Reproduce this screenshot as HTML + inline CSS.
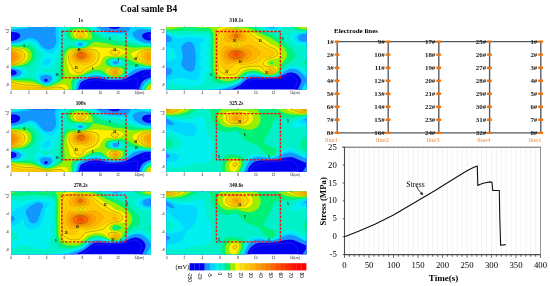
<!DOCTYPE html>
<html lang="en"><head><meta charset="utf-8"><title>Coal samle B4</title>
<style>
html,body{margin:0;padding:0;background:#fff;}
body{width:550px;height:286px;overflow:hidden;}
svg{display:block;}
text{font-family:"Liberation Serif","Times New Roman",serif;fill:#000;}
.b{font-weight:bold;}
.s{font-family:"Liberation Sans",Arial,sans-serif;}
.k{stroke:#000;stroke-opacity:.28;stroke-width:.3;}
.k2{stroke:#000;stroke-opacity:.7;stroke-width:.35;}
.w{stroke:#fff;stroke-opacity:.35;stroke-width:.3;}
.red{fill:none;stroke:#ee0c0c;stroke-width:1.4;stroke-dasharray:2.5 1.35;}
.tk{stroke:#444;stroke-width:.35;fill:none;}
.ax{font-family:"Liberation Sans",Arial,sans-serif;font-size:3.2px;fill:#111;}
.cl{font-family:"Liberation Sans",Arial,sans-serif;font-size:2.6px;fill:#000;font-weight:bold;}
.el{font-size:6.9px;fill:#1a1a1a;font-weight:bold;text-anchor:end;}
.ln{font-size:6.5px;fill:#f08a3c;text-anchor:middle;}
.ct{font-size:8.7px;}
</style></head><body>
<svg width="550" height="286" viewBox="0 0 550 286">
<rect width="550" height="286" fill="#fff"/>
<defs><clipPath id="mc"><rect x="0" y="0" width="139.8" height="62.5"/></clipPath></defs>

<text x="148.7" y="11.7" class="b" font-size="9.3" text-anchor="middle">Coal samle B4</text>
<g transform="translate(11.0 26.9)">
<text x="69.7" y="-4.7" class="b" font-size="5.3" text-anchor="middle">1s</text>
<g clip-path="url(#mc)">
<rect x="-1" y="-1" width="141.8" height="64.5" fill="#0000f0"/>
<path fill="#0000f0" class="w" d="M-1 -1l141.8 0l0 45.8l-1-0.7l-1-0.2l-2 0.2l-1.9 0.5l-1.7 1l-1.2 1l-0.7 1l-0.2 1l0.7 0.5l1 0.3l3-0.1l3-0.6l1-0.5l1-0.9l0 16.2l-15.7 0l1-2l0.7-7.9l-0.2-1l-0.8-0.8l-1-0.2l-2 0.1l-3 0.5l-5 1.6l-4 0.5l-5.9-0.2l-5 0.3l-3 0l-3-0.4l-4-0.8l-3-0.2l-4 0.1l-3.9 0.5l-4.1 1.5l-2 1.1l-1 0.9l-1 1.3l-1 1.8l-1 2.3l-0.2 1l-69.7 0l0-16.5l1 0.3l1-0.1l1.2-0.6l0.5-1l-0.5-1l-1.2-0.5l-1-0.2l-1 0.3l0-33l1 0.2l1 0l1.4-0.5l0.9-1l0.1-1l-0.8-1l-0.6-0.3l-1-0.3l-1 0l-1 0.2l0-7.5zM138.8 7.9l-1 0.4l-0.7 0.6l0.2 1l0.5 0.4l1 0.3l1-0.2l0.6-0.5l0.3-1l-0.9-0.8l-0.8-0.2z"/>
<path fill="#1496ff" class="w" d="M-1 -1l95.3 0l1.7 1l2.9 1.3l2.3 0.7l2.7 0.3l1.9-0.2l2-0.6l2-1.3l1.1-1.2l29.9 0l0 6.4l-2-0.3l-2 0.1l-3 0.7l-1.7 1l-0.8 1l-0.3 1l0.2 1l0.5 1l0.9 1l1.5 1l1.7 0.6l2 0.4l3-0.3l0 29.4l-2-0.5l-2 0l-3 0.4l-3.3 0.8l-4.9 1.9l-10.8 5.9l-2 0.7l-3 0.6l-10.9 0.2l-3.4-0.4l-6.6-1.6l-3-0.2l-4 0.1l-4 0.7l-5.2 2l-1.9 1l-0.9 0.8l-1 1.6l-0.6 1.5l-0.9 3l-0.4 2l-68 0l0-14.8l3 0l2-0.7l0.7-0.4l0.9-1l0.2-1l-0.4-1l-1.4-1.1l-2-0.7l-1-0.1l-2 0.1l0-28.8l3 0l2-0.4l1.8-0.7l1.6-1l1-1l0.7-1l0.2-1l-0.1-1l-0.7-1l-1.6-1l-1.9-0.6l-2-0.3l-4 0.1l0-5.1zM34 51.9l-0.8 0.7l-0.1 1l0.7 1l1.1 0.4l1.2-0.4l0.8-1l-0.1-1l-0.9-0.8l-1-0.2zM139.2 50.6l1.6-0.7l0 13.6l-13.1 0l2.1-6l1-1.8l0.9-1.1l1.1-1l1.6-1l4.4-1.8z"/>
<path fill="#00d8ff" d="M-1 -1l23.3 0l-3.3 1.6l-3 0.8l-17 1.6l0-3zM44.8 0l0.1-1l39.7 0l2.6 2l2.7 1.6l3 1.4l2.7 1l4.3 0.7l8.9 0.3l5-0.4l3-0.8l1.2-0.8l0.5-1l1.3-4l21 0l0 4l-8-0.7l-3 0l-2 0.2l-3 1l-2.4 1.5l-0.7 0.9l-0.1 1l0.7 2l1.7 2l2.5 2l1.8 1l2.5 1.1l4 1l3 0.3l3-0.2l0 25.6l-3-0.4l-5 0l-4.3 0.4l-3.7 0.8l-2 0.8l-2 1.2l-5 4.1l-2 1.3l-3 1.3l-3 0.6l-4.9 0.2l-4-0.3l-3-0.6l-6-1.9l-4-0.6l-4 0.2l-4 0.8l-7.8 3l-1.2 0.7l-1 0.9l-0.9 1.4l-0.7 1.9l-0.9 6l-66.4 0l0-13.4l4-0.1l2.5-0.4l1.5-0.5l1-0.5l1.3-1l0.6-1l0.2-1l-0.4-1l-1-0.9l-1.8-1l-3.9-1l-4-0.1l0-25.4l3 0l4-0.6l4-1.2l7-2.7l2-0.4l2 0l1 0.2l2 0.7l2 1.4l1.2 1.3l3.8 4.7l2 1.6l1.9 0.9l2 0.4l2 0l1-0.2l2-1.1l1.3-1.4l1.3-1.9l0.6-2l0.3-3l-0.9-7l0-2.9l0.1-2zM67.9 16.3l-0.9 0.6l0 1l1.2 0.9l1.7 0.2l1-0.4l0.7-0.7l-0.1-1l-0.6-0.5l-1-0.4l-1 0zM102.9 34.4l-0.5 0.3l-0.5 1l0.4 1l1.6 0.8l1 0.1l0.9-0.2l1.3-0.7l0.4-1l-0.5-1l-1.2-0.5l-0.9-0.2l-1 0zM32 48.5l-1 0.3l-1.2 0.8l-0.5 1l-0.1 1l0.3 1l1.3 2l1.3 1l1.9 0.7l1.9 0.1l2-0.6l1.7-1.2l0.7-1l0.5-1l0.1-1l-0.1-1l-0.9-1.2l-1-0.6l-1-0.3l-2-0.3l-2.9 0.1zM138.9 52.6l1.9-0.8l0 11.7l-10.9 0l1.6-4l1.8-2.9l2.1-2l1.5-1l1.9-1z"/>
<path fill="#00f0f0" d="M-1 -1l16 0l-3.1 1l-4.2 1l-5.1 1l-2.6 0.3l-1 0.1l0-2.4zM49.9 -1l31.9 0l6.1 4.3l3 1.6l3 1.2l4 0.8l7.9 0.3l8 1.2l3 1l8.3 4.5l4.7 1.8l3 0.8l3 0.4l3 0.2l2-0.3l0 24.5l-4-0.5l-5-0.1l-5 0.4l-3 0.6l-3 1.3l-2 1.7l-2.9 2.9l-2.8 2l-2.3 1.1l-3 0.7l-4.9 0.2l-4-0.3l-3-0.7l-6-2.1l-3-0.6l-4 0l-2 0.3l-3 0.7l-8 3.1l-2.4 1.6l-1.3 2l-0.7 1.9l-0.6 6l-65.9 0l0-13l5 0l4-0.9l2.1-1l1.3-1l0.7-1l0.2-1l-0.4-1l-1-0.9l-1.8-1l-1.1-0.4l-4-0.9l-3-0.2l-2 0.1l0-24.4l3 0l4-0.5l11-2.7l2-0.2l2 0.3l2 0.7l2 1.3l5 5.7l2 1.6l2 1.2l4.9 2.4l1 0.1l1-0.2l2-1.4l2-2.4l2-3l1.4-2.9l0.4-3l-0.6-6l-0.1-2.9l0.5-3l0.8-2zM66.9 15.8l-1.3 1.1l0.1 1l1.2 0.9l2 0.6l1 0l1-0.2l0.7-0.4l0.9-0.9l0-1l-0.6-0.8l-1-0.5l-1-0.2l-2 0.1zM102.9 33.6l-1.7 1.1l-0.3 1l0.4 1l1.6 1.1l1 0.2l1.9 0l1.1-0.3l1.5-1l0.4-1l-0.4-1l-1.6-1l-1-0.3l-1.9 0zM29 47.5l-1.2 1.1l-0.4 1l0.1 1l0.7 2l1.7 2l2.1 1.4l2 0.8l1.9 0.1l1.6-0.3l2-1l1.2-1l1.4-2l0.3-1l0-1l-0.2-1l-0.5-1l-1.2-1l-1.6-0.5l-6.9-0.1l-2 0.2zM35.9 31.6l-1.9 1.1l-1.2 1l-0.6 1l-0.2 1l0.1 1l0.7 1l1.2 0.5l0.9 0.2l2-0.2l1.1-0.5l1.1-1l0.6-1l0.4-2l-0.2-1.1l-1-1.3l-1-0.2l-1 0.2zM125.5 -1l15.3 0l0 3.2l-3-0.3l-4.8-0.9l-5-1l-2.2-0.8zM140.4 52.6l0.4-0.2l0 11.1l-10.2 0l1.6-4l2-2.9l2.3-2l1.6-1l1.7-0.8z"/>
<path fill="#00f0c8" d="M-1 -1l10.5 0l-6.1 2l-3.4 0.6l-1 0.1l0-1.7zM53.1 0l1.1-1l24.6 0l3.1 1.7l6 4.4l2 1.2l3 1.2l3 0.8l2 0.2l2 0.1l4-0.2l1.9 0.3l8 2.3l9.7 3.9l5.3 1.6l3 0.7l4 0.4l3 0.2l2-0.3l0 23.4l-5-0.6l-6-0.2l-4 0.2l-3 0.5l-2 0.7l-1 0.6l-1 0.9l-3 3.6l-3 2.5l-3 1.4l-3 0.6l-3.9 0.2l-4-0.4l-3-0.9l-6-2.3l-3-0.6l-4 0l-4 0.9l-9.5 3.6l-1.8 1l-1.1 1l-1.2 2l-0.6 1.9l-0.2 2l0 3l-0.2 1l-65.3 0l0-12.5l6-0.1l4-0.7l3-1.2l2.5-1.4l1.1-1l0.5-1l-0.3-1l-1.2-0.9l-2.2-1l-2.4-0.8l-3-0.6l-3-0.4l-5 0l0-23.4l2 0.1l4-0.4l10-1.7l3-0.2l2 0.1l1.4 0.5l1.6 0.8l1.3 1.2l6.5 7.9l0.7 1l0.4 1l-0.2 1l-2.6 4.9l-1 3l-0.1 3l0.7 2l-0.7 1l-2 0.8l-1.5 1.1l-0.7 1l-0.1 1l0.3 1l0.9 2l1.2 2l1.7 2l2.3 2l1.9 1l2 0.6l1.9 0.1l2-0.4l2.8-1.3l1.2-1l1.6-2l0.6-2l0.1-1l-0.3-1.5l-0.7-1.5l-1.3-1.3l-1-0.6l-1-0.2l-2 0.4l-2 0.8l-1 0.2l-1.5-0.3l-2-1l-2.3-1.9l0.9-0.5l1.9-0.5l3-0.2l4 0.2l1-0.3l1-0.7l1-1l1-1.5l1-2.1l0.9-2.4l1.2-5.9l0.7-2l1.4-3l3.1-4.9l0.7-2l0.1-2l-1-5l-0.2-3l0.6-2.9l0.5-1.2l1-1.5zM67.9 14.8l-2 0.5l-1.3 0.6l-0.7 1l0.3 1l1.3 0.9l1.4 0.6l1.8 0.4l1.2 0l1-0.2l1.7-0.8l0.8-0.9l0.2-1l-0.6-1l-1.1-0.6l-1-0.4l-2-0.1zM101.9 33.3l-0.9 0.4l-0.9 1l-0.2 1l0.3 1l1.2 1l1.5 0.6l2 0.2l2.9-0.5l0.9-0.3l1.2-1l0.4-1l-0.4-1l-1.1-1l-2-0.7l-1.9-0.2l-2 0.2zM131.9 -1l8.9 0l0 2.3l-3.3-0.3l-4.7-1.6zM139.4 53.6l1.4-0.6l0 10.5l-9.6 0l1.6-3.7l1.5-2.3l2-1.9l2.5-1.8z"/>
<path fill="#00f078" d="M-1 -1l4 0l-3 1.2l-1-0.1l0-0.1zM61.2 0l2.7-0.5l2-0.1l4 0.5l4 0.2l3 0.8l2 0.9l1.6 1.2l5.4 5l2 1.5l3 1.4l3 0.8l7 1.3l4.9 1.2l7 1l9 2.3l4 0.7l8 0.7l5 0.1l2-0.2l0 21.3l-15-1.7l-9-0.3l-1-0.5l-1-1.9l-1.8-2l-2.2-1.1l-3-0.8l-2.9-0.1l-3 0.3l-2.4 0.7l-1.3 1l-0.6 1l-0.1 1l0.3 1l0.9 1l2 1l2.2 0.5l2 0.1l9.9-0.6l0.9 1l0.1 1l-0.2 2l-0.2 1l-0.9 1.9l-1.6 2l-1.1 0.9l-3 1.4l-2 0.5l-1.9 0.2l-3 0l-2-0.4l-3-0.9l-7-3.3l-3-0.7l-3 0l-4 0.8l-12 4.7l-1.5 0.8l-1.4 1l-0.9 1l-0.6 1l-0.5 2l-0.2 1.9l0.3 4l-0.3 1l-63.8 0l0-11.7l8 0.3l9-1.1l3 0.1l3 0.9l9 5.2l2 0.7l1.9 0.3l3-0.2l2-0.6l3.4-1.8l2.5-2l1.6-2l0.9-2l0.3-1l0.1-1l-0.3-5.9l0.3-3l1.7-7l0.1-2.9l0.3-2l0.8-2l1.3-2.1l1-1.2l2-1.5l1-0.5l2-0.5l2 0.1l7 1.4l2 0l2-0.3l1-0.4l1.8-1l1-0.9l0.4-1l-0.2-1l-1-1l-2-0.8l-4-0.4l-6 0.1l-2-0.1l-2-0.7l-1.3-1.1l-0.8-1l-1-2l-0.3-2l0.3-1.9l1-2l0.9-1l1.3-1l1.9-0.9zM138.8 -1l2 0l-1 0.2l-1-0.2zM-1 18.8l0-0.2l3 0l11-0.5l4 0.1l2 0.4l1 0.4l1 0.8l2 2.3l1.4 2.7l0.7 3l-0.5 3l-0.8 1.9l-0.8 1.5l-2.1 2.5l-1.2 1l-1.7 1.1l-2 0.7l-3 0.5l-14 0.2l0-20.4zM140 54.6l0.8-0.3l0 9.2l-8.3 0l1.3-2.9l1.4-2.1l1.9-1.9l2.7-1.9z"/>
<path fill="#96f000" d="M64.1 2l2.8-0.4l5 0.2l3 0.6l2 1l2 1.6l0.8 0.9l1.1 2l0.4 2l0 1l-0.5 1l-0.8 0.6l-1 0.3l-2 0l-9-0.2l-4-0.6l-2.3-1.1l-1.1-1l-0.6-1l-0.4-1l0-2l0.4-0.9l1-1.3l1-0.8l2-0.9zM81.6 15.9l1.3-0.8l1-0.2l3 0.2l10 1.6l7 1.8l6.9 0.1l8 1.7l3 0.3l4 0.1l15-0.7l0 19.3l-4-0.5l-4-0.8l-8-2l-3.3-1.3l-5.7-3.1l-2.8-0.8l-4.2-0.3l-8.9 0.4l-2 0.5l-1 0.5l-1.2 0.8l-0.8 1l-0.4 1l-0.1 1l0.1 1l0.5 1l1.2 1l2.7 0.8l3 0.4l5.9 0.4l2.5 0.4l1.5 0.7l1.1 1.3l0.2 1l-0.1 0.9l-1 2l-0.9 1l-1.3 1l-2 0.8l-2 0.5l-1.9 0.1l-2-0.2l-2-0.4l-2.2-0.8l-1.7-1l-4.1-3.1l-2-1.1l-2-0.4l-3 0.1l-3 0.6l-3 1l-7 3.3l-7.7 2.6l-2.3 1.3l-0.7 0.7l-0.7 1l-0.4 2l0.1 1.9l0.7 4l-0.1 2l-61.8 0l0-10.8l2 0l7 0.8l8 0.1l3 0.3l4 1l9 3.6l2.9 0.6l3-0.1l2-0.5l5.1-1.9l3.8-2l2.8-2l0.8-1l0.9-2l0.1-2l-0.6-5.9l-0.1-3l0.5-8.9l0.6-3l1-2l0.8-1l1.1-1l1.2-0.7l1-0.5l2-0.5l2-0.1l7 0.2l2-0.2l2-0.5l1.8-0.7l2-1l1.5-0.9l1.7-1.5zM-1 19.8l0-0.2l11 0.4l3 0.3l3 0.8l2 1.2l1.4 1.5l0.9 2l0.4 2l-0.1 2l-0.3 1l-0.9 1.9l-1.6 2l-1.1 1l-1.7 1.2l-3 1.2l-2.8 0.6l-4.2 0.5l-6 0.3l0-18.7zM139.2 56.6l1.6-0.9l0 7.8l-7 0l0.9-2l1.1-1.7l1.1-1.3l1.9-1.6z"/>
<path fill="#fff000" class="k" d="M65.2 4l2.7-0.7l3 0l2.6 0.7l1.8 1l1 0.9l0.6 1l0.2 1l-0.1 1l-0.6 1l-1.5 1l-3 0.8l-3 0l-3-0.7l-1.9-1.1l-0.9-1l-0.4-1l-0.1-1l0.3-1l0.8-0.9l1.2-0.9zM-1 20.8l0-0.1l3 0.1l5 0.4l3.4 0.6l2.6 0.9l1.7 1.1l1.3 1.4l0.8 1.6l0.3 2l-0.4 2l-0.9 1.9l-1.8 2l-2 1.4l-2 0.9l-3 0.8l-4 0.7l-4 0.3l0-17zM77.1 20.8l3.8-0.7l3-0.2l3 0.1l5 0.6l8-0.1l6.9 0.4l3 0.6l3 1.3l1.4 1l0.9 1l0.2 1l-1 1l-2.1 1l-2.9 1l-2.5 0.5l-2.9 0.3l-7-0.5l-2 0.4l-0.7 0.3l-1.3 0.9l-0.9 1l-2.8 6l-1.3 1.2l-1.4 0.8l-8.6 3.3l-7 4l-3 0.8l-3 0.3l-3-0.1l-2-0.7l-0.8-0.7l-0.7-1l-0.9-1.9l-0.6-2l-1.2-6l-0.3-4.9l0.5-3l0.9-2l0.8-1l1.3-1.1l2-1l3-0.6l7-0.3l6-0.9zM133.1 21.8l7.7-0.6l0 17.3l-3-0.3l-3-0.7l-4-1.3l-3.4-1.5l-1.7-1l-2.6-2l-1.8-1.9l-1.4-2l-0.3-1l0.6-1l1.8-1l2.6-1l3.3-1l4.9-0.9zM96.2 41.7l2.7-0.7l3-0.2l3.9 0.2l3.2 0.7l1.5 1l0.6 1l0.1 0.9l-0.2 1l-0.6 1l-0.9 1l-1.7 1l-2.9 0.7l-3-0.2l-2-0.6l-1.8-0.9l-1.2-1l-0.9-1l-0.6-1l-0.3-0.9l0.1-1l0.7-0.8zM-1 54.6l0-0.9l1-0.1l9 1.7l12 1.1l6 1.3l5 1.8l3.9 0.5l3-0.1l9-2.2l3-0.5l2-0.1l2 0.6l1.2 0.8l1.3 2l0.5 1.8l0.1 1.2l-59 0l0-7.9zM140.2 57.5l0.6-0.3l0 6.3l-5.7 0l0.7-1.5l1-1.5l1-1.1l2-1.6z"/>
<path fill="#ffdc00" class="k2" d="M69.4 5l1.5 0.1l2 0.8l0.9 1l0.3 1l-0.3 1l-1 1l-1.9 0.7l-1 0.1l-2-0.3l-1.1-0.5l-1-1l-0.4-1l0.1-1l0.8-1l1.6-0.7l1-0.2zM-1 21.8l0-0.1l2 0l4 0.5l2.9 0.6l2.1 0.8l1.8 1.2l1 1l0.7 1l0.5 2l-0.3 2l-1 1.9l-0.9 1l-1.8 1.5l-2 1l-3 1.1l-3 0.6l-3 0.3l0-15.4zM65.4 22.8l11.5-0.7l3 0.1l2 0.3l3 1l1.9 1.3l0.9 1l0.4 1l0.1 1l-0.1 2l-0.8 2.9l-1.1 2l-1.3 1.7l-1.7 1.3l-1.3 0.7l-6.9 3.3l-4.5 3.9l-1.6 0.5l-2-0.2l-1.2-0.3l-1.9-1l-1-0.9l-0.9-1.5l-3-5.9l-1.2-3.6l-0.2-1.9l0.2-2l0.8-2l0.7-1l1-1l1.6-1l3.1-0.9zM135.6 22.8l5.2-0.5l0 15.4l-2-0.2l-2-0.4l-3.6-1.4l-2-1l-2.8-2l-0.9-1l-1.1-1.9l-0.2-1l0.2-1l0.5-1l1-1l1.5-1l1.4-0.6l4-1.2zM100 23.8l1.9-0.6l2-0.2l1.9 0.2l1 0.3l0.7 0.3l1 1l0.1 1l-0.5 1l-1.3 1l-1.9 0.6l-1 0l-2-0.4l-2.2-1.2l-0.7-1l0.1-1l0.8-0.8zM102.5 41.7l2.4 0l1.9 0.3l1.5 0.7l1 1l0.3 0.9l-0.1 1l-0.5 1l-1.2 1l-1 0.5l-1.9 0.5l-2-0.1l-2-0.6l-2.1-1.3l-0.7-1l-0.3-1l0.1-0.9l1-1l1-0.5l2-0.5zM-1 55.6l0-0.6l1-0.2l6 1.8l3 0.8l4 0.5l8 0.4l4 0.4l3 0.5l4 1.3l2.9 0.4l4 0.1l6-0.9l4 0.2l2 0.4l1.7 0.8l1 1l0.6 1l-55.2 0l0-6.9zM139.7 59.5l1.1-0.7l0 4.7l-4.4 0l1.2-2l1.2-1.3z"/>
<path fill="#ffc800" class="k" d="M68.2 7.9l0.7-0.7l1-0.1l1 0.5l0.3 0.3l-0.2 1l-1.1 0.6l-1-0.2l-0.6-0.4zM-1 22.8l0-0.1l2 0.1l3 0.4l2.2 0.6l2.1 1l1.3 1l0.8 1l0.6 1l0.2 2l-0.6 1.9l-0.6 1l-2.2 2l-1.8 1l-2.5 1l-2.5 0.6l-2 0.1l0-13.6zM64.8 23.8l2.1-0.5l3-0.2l6 0.1l2 0.3l2 0.6l1.5 0.7l1.4 1l0.8 1l0.7 2l0.1 1l-0.4 1.9l-1.1 2l-1 1.2l-2 1.4l-2 0.9l-2 0.5l-2 0.2l-2-0.2l-2-0.7l-4 0.4l-2-0.6l-2-1.3l-1-1.2l-1-1.9l-0.4-1.6l0.1-2l0.8-2l0.8-1l1.3-1l1.4-0.7zM137.3 23.8l3.5-0.3l0 13.3l-2-0.1l-2.6-1l-1.9-1l-2.7-2l-1.4-1.9l-0.3-1l0-1l0.3-1l0.7-1l1.2-1l1.7-0.9l3-1zM102.2 42.7l2.7-0.2l0.9 0.2l1.8 1l0.6 0.9l-0.1 1l-0.6 1l-1.7 1l-0.9 0.2l-2-0.1l-1-0.3l-1.3-0.8l-0.7-1l-0.2-1l0.5-0.9l1.7-1zM-1 57.5l2 0.1l5 1.6l4 0.8l4 0.3l12 0l7 1.4l5.9 0.6l6 0.1l2 0.4l1.6 0.7l-49.5 0l0-5zM140.8 60.5l0 3l-3 0l0.6-1l1.4-1.3z"/>
<path fill="#ffb400" class="k" d="M-1 23.8l2 0l2 0.4l1.8 0.6l1.2 0.6l1.7 1.4l0.6 1l0.4 1l0.1 1l-0.6 1.9l-0.7 1l-1 1l-1.4 1l-1.9 1l-2.2 0.8l-1 0.2l-1-0.1l0-11.8zM68.3 23.8l2.6-0.1l2 0.1l4 0.9l2.2 1.1l1.1 1l0.7 1l0.3 1l0 2l-1.1 1.9l-1 1l-1.2 0.8l-1 0.4l-2 0.5l-2 0l-7-0.6l-1-0.3l-1.4-0.8l-1.1-1l-0.5-0.8l-0.4-1.1l-0.2-1l0.4-2l0.5-1l1-1l1.5-1l3.2-0.9zM139.5 24.8l1.3 0l0 10.7l-1 0.1l-1-0.1l-1.6-0.8l-2.4-1.7l-1.2-1.3l-0.5-0.9l-0.2-1l0.1-1l0.4-1l0.9-1l1.5-1l3-0.9zM102.6 43.7l1.3-0.4l1 0.1l0.9 0.3l1 0.9l0 1l-0.9 1l-1 0.4l-1 0l-1.4-0.4l-1-1l0-1l0.4-0.4zM19.6 62.5l6.4-0.4l6 0.8l2.9 0.1l2.3 0.5l-37.3 0l4.1-0.4l9 0l6-0.5zM140.6 62.5l0.2-0.1l0 1.1l-1.4 0l0.4-0.4z"/>
<path fill="#ffa000" class="k" d="M66.9 24.8l3-0.5l3 0.3l3 1l1.6 1.2l0.7 1l0.4 1l0 1l-0.3 1l-0.6 0.9l-0.8 0.7l-2 1l-3 0.4l-4-0.3l-2-0.5l-1-0.5l-0.9-0.8l-0.6-0.9l-0.3-1l-0.1-1l0.3-1l0.6-1l1-1l2-1zM-1 25.8l0-1l1 0l2 0.4l1.6 0.6l1.4 1l0.8 1l0.5 1l0.1 1l-0.1 1l-0.5 0.9l-0.7 1l-1.1 1l-1.6 1l-1.4 0.7l-1 0.3l-1-0.1l0-8.8zM137.5 26.8l1.3-0.5l2 0l0 7.3l-1-0.1l-1-0.3l-1-0.5l-1.1-1l-0.6-0.9l-0.3-1l0.1-1l0.9-1.4zM103.5 44.6l0.4-0.1l1 0l0.2 0.1l0.2 1l-0.4 0.3l-1 0.1l-0.6-0.4z"/>
<path fill="#ff8c00" class="k" d="M66.7 25.8l2.2-0.8l2 0l2.8 0.8l1.2 0.8l1.1 1.2l0.3 1l-0.1 1l-0.3 0.5l-1 1.1l-2 0.8l-2 0.3l-2-0.1l-2.2-0.7l-1.3-0.9l-0.6-1l-0.2-1l0.2-1l0.6-1l0.5-0.4zM-1 26.8l0-0.7l1 0l1 0.2l1.2 0.5l1.1 1l0.5 1l0.1 1l-0.2 1l-0.5 0.9l-1 1l-2 1l-1.2 0.1l0-6z"/>
<path fill="#ff7800" class="k2" d="M68.7 25.8l1.2-0.2l2 0.5l1.2 0.7l0.8 1l0.2 1l-0.4 1l-1.3 1l-1.5 0.3l-2-0.1l-1-0.3l-1-0.7l-0.7-1.2l0.1-1l0.6-1l1-0.7z"/>
<path fill="#ff6400" class="k" d="M68.6 26.8l1.3-0.4l1.2 0.4l0.9 1l-0.1 1l-1 0.7l-1 0.2l-1-0.3l-0.8-0.6l-0.2-1.1z"/>
</g>
<text x="13.3" y="20.5" class="cl" text-anchor="middle">0</text>
<text x="67.9" y="23.8" class="cl" text-anchor="middle">45</text>
<text x="103.8" y="23.8" class="cl" text-anchor="middle">20</text>
<text x="65.3" y="41.7" class="cl" text-anchor="middle">20</text>
<text x="81.8" y="43.5" class="cl" text-anchor="middle">5</text>
<text x="98.7" y="13.5" class="cl" text-anchor="middle">0</text>
<text x="107.4" y="34.6" class="cl" text-anchor="middle">0</text>
<text x="45.9" y="49.4" class="cl" text-anchor="middle">10</text>
<text x="124.8" y="33.3" class="cl" text-anchor="middle">45</text>
<text x="125.4" y="40.2" class="cl" text-anchor="middle">20</text>
<rect class="red" x="50.9" y="4.5" width="64.2" height="46.3"/>
<path class="tk" d="M0.0 0v-1.2M0.0 62.5v1.2M17.8 0v-1.2M17.8 62.5v1.2M35.7 0v-1.2M35.7 62.5v1.2M53.5 0v-1.2M53.5 62.5v1.2M71.4 0v-1.2M71.4 62.5v1.2M89.2 0v-1.2M89.2 62.5v1.2M107.0 0v-1.2M107.0 62.5v1.2M124.9 0v-1.2M124.9 62.5v1.2"/>
<text class="ax" x="0.0" y="67.1" text-anchor="middle">0</text>
<text class="ax" x="17.8" y="67.1" text-anchor="middle">2</text>
<text class="ax" x="35.7" y="67.1" text-anchor="middle">4</text>
<text class="ax" x="53.5" y="67.1" text-anchor="middle">6</text>
<text class="ax" x="71.4" y="67.1" text-anchor="middle">8</text>
<text class="ax" x="89.2" y="67.1" text-anchor="middle">10</text>
<text class="ax" x="107.0" y="67.1" text-anchor="middle">12</text>
<text class="ax" x="123.4" y="67.1">14(cm)</text>
<text class="ax" x="-2.2" y="5.8" text-anchor="end">-2</text>
<text class="ax" x="-2.2" y="23.6" text-anchor="end">-4</text>
<text class="ax" x="-2.2" y="41.4" text-anchor="end">-6</text>
<text class="ax" x="-2.2" y="59.2" text-anchor="end">-8</text>
<text class="ax" x="-1.6" y="2.9" text-anchor="end" style="font-size:2.4px">(cm)</text>
</g>
<g transform="translate(166.6 26.9)">
<text x="69.7" y="-4.7" class="b" font-size="5.3" text-anchor="middle">310.1s</text>
<g clip-path="url(#mc)">
<rect x="-1" y="-1" width="141.8" height="64.5" fill="#0000f0"/>
<path fill="#0000f0" class="w" d="M-1 -1l141.8 0l0 64.5l-13.2 0l2.7-6.9l0.2-2l-0.2-1l-1-2l-0.8-1l-1.2-1l-2-1l-2.5-0.4l-2 0.2l-6 2.4l-4 0.8l-6.9 0.3l-8 0.6l-9 0l-3 0.4l-1.7 0.7l-1.3 0.9l-4 3.8l-2 1.6l-6.6 3.6l-69.3 0l0-63.5z"/>
<path fill="#1496ff" class="w" d="M-1 -1l141.8 0l0 64.5l-9.7 0l3.5-7.9l0.2-2l-0.2-1l-0.8-1.7l-0.9-1.3l-2.1-2l-1.5-1l-1.5-0.6l-3-0.6l-2 0.1l-2 0.5l-7.6 3.6l-2.4 0.7l-2 0.4l-9.9 0.5l-12-0.6l-2 0.1l-2 0.5l-3 1.5l-5 4.2l-2 1.4l-6.5 3.2l-3.4 2l-64 0l0-63.5z"/>
<path fill="#00d8ff" d="M-1 -1l101.3 0l2.6 1.7l1 0.4l1 0.1l1.9-0.5l1.2-0.7l0.8-1l32 0l0 8.2l-1-0.3l-2-0.1l-1.4 0.1l-1.6 0.5l-1.3 0.5l-1.4 1l-0.7 1l-0.2 1l0.3 1l0.7 1l1.6 1.1l1 0.3l2 0.3l2-0.1l2-0.3l0 49.3l-6.3 0l1.3-2.9l2.9-4l1-2l0.1-1l-0.2-1l-0.3-1l-1.1-2l-3.4-3.8l-3-2.3l-3-1.2l-3-0.3l-2 0.2l-3 1l-2 1l-6 3.9l-2 0.9l-3 0.8l-3.9 0.4l-4-0.1l-12-1.5l-3 0.1l-2 0.4l-2 0.7l-2 1.1l-5.7 4.7l-2.3 1.5l-2 0.9l-9.8 3.5l-4.9 2l-55.2 0l0-14.7l2.3-0.2l2.1-1l1.1-1l0.5-1l0.3-1l0-0.9l-0.4-1l-1.1-1l-1.8-0.7l-3-0.2l0-26.2l2 0.4l2.4-0.1l0.6-0.2l1-0.7l0.4-1.1l-0.2-1l-0.6-1l-1-1l-1.4-1l-2.2-0.6l-1 0.3l0-8.6zM22 14.9l-2 0.5l-2.8 1.5l-1.2 1l-0.7 0.9l-0.4 1l-0.2 1l0.2 2l1.1 5l0.2 2l-0.3 1.9l-1.1 4l-0.1 2l0.2 1l0.4 1l0.8 1l1.9 1.6l3 1.8l2 0.6l1 0.1l2-0.5l1-0.6l1-1.6l0.5-2.4l0.8-8.9l-0.9-9l-0.9-3l-0.5-1.1l-1-1.4l-1-0.8l-1-0.5l-1-0.2z"/>
<path fill="#00f0f0" d="M-1 -1l97.7 0l3.1 2l1.9 1l2.2 0.6l1.9 0.2l2-0.2l2.3-0.6l1.5-1l0.7-1l0.3-1l28.2 0l0 7.4l-2-0.3l-2 0l-2 0.2l-2.7 0.6l-2.3 1l-1.3 1l-0.5 1l-0.2 1l0.2 1l0.5 1l0.7 1l1.2 1l1.4 0.7l1 0.3l2 0.3l6-0.5l0 35.3l-0.7-1.4l-1.6-2l-2.8-3l-2.3-1.9l-1.6-1l-2-0.8l-2-0.3l-2 0l-2 0.4l-3 1.1l-2 1.1l-6.2 4.4l-2.8 1.3l-2.8 0.7l-3.1 0.3l-4-0.1l-9-1.6l-3-0.3l-3 0.1l-3 0.6l-2 0.9l-1.9 1.1l-5.9 5l-2.2 1.2l-3 1.1l-14 4.2l-4 1.4l-49.9 0l0-10l5-0.5l7-1.9l2-0.4l2 0.2l7 1.9l3 0.3l3-0.1l1.9-0.4l1.1-0.5l1-1l1-2.6l0.7-3.9l0.9-2.9l-0.1-1l-1.2-3l-0.3-1l0.1-1l0.3-1l1.2-2l0.3-1l-0.1-0.9l-1.6-3l-0.2-1l0.2-1l1.3-3l0.2-1l-0.1-1l-1-2l-0.1-0.9l0.5-1.1l2.9-2.7l0.6-1.2l-0.1-1l-1.5-0.8l-1-0.2l-4.9-0.1l-6-0.8l-2 0.1l-7 1.5l-2 0l-2-0.5l-7.1-3.2l-2.9-0.6l-2 0.1l0-7.4zM-1 19.8l0-0.8l2 0.5l3 1.3l2 1.4l1 0.9l1.2 1.7l1.1 2l0.6 2l-0.1 1l-0.5 1l-0.8 0.9l-1.5 1.2l-3 1.3l-2.1 0.5l-2.9 0.4l0-14.3zM140.2 56.6l0.6-1l0 7.9l-5.3 0l1.3-2.6l3-3.8z"/>
<path fill="#00f0c8" d="M-1 -1l94.1 0l5.1 3l3.7 1.5l3.9 0.8l4 0.2l2-0.1l2-0.3l1-0.4l1-0.7l0.5-1l0.1-1l-0.1-2l24.5 0l0 6.7l-2-0.3l-3-0.1l-7 0.7l-3.7 0.9l-1.4 1l-0.4 1l0.3 2l0.4 1l1.3 2l1.9 2l2.6 1.7l2 0.8l2 0.2l2-0.2l3-0.9l2-0.1l0 30.4l-5-5.4l-3-2.3l-3-1.2l-2-0.2l-2 0.2l-3 0.9l-3 1.5l-2 1.4l-4.6 3.9l-2.4 1.4l-2 0.8l-3 0.7l-3.9 0.1l-4-0.5l-9-1.8l-3-0.1l-3 0.4l-2 0.6l-2.7 1.4l-2.3 1.7l-4 3.5l-1.1 0.8l-1.9 0.9l-4 1.1l-6 1.4l-13.6 2.5l-2.4 0.9l-1.7 1.1l-42.2 0l0-5.7l4-0.1l5 0.3l4 0.4l7 1.2l4 0.2l4-0.3l6-1.1l2.7-0.9l1.2-0.7l0.9-1.2l0.4-1l0.3-5l0.4-2l0.5-1l2.5-3l0.5-0.9l-0.3-1l-1.5-3l-0.2-2l0.2-1l1.8-4l-0.5-1.2l-1.4-2.7l-0.2-1l0.2-2l1.9-4l-0.9-2.9l-0.2-2l0.2-2l0.8-3l0.1-1l-0.5-0.5l-1-0.6l-3-0.9l-3-0.2l-4.9 0.2l-7-0.2l-7 0.6l-3 0l-2-0.2l-8-1.6l-2-0.2l-2 0.1l0-6.4zM140.3 58.5l0.5-0.6l0 5.6l-4.2 0l1-2l2.2-2.5z"/>
<path fill="#00f078" d="M-1 -1l85.7 0l4.2 1.5l7 3.6l3 1.3l6.9 2.1l2 0.8l3.5 1.6l3.3 2l2.2 1.7l3 2.7l5.2 5.5l1.4 2l1.1 2l0.7 3l-0.3 2l-0.5 0.9l-0.8 1l-7.8 6.1l-2 1.9l-3.3 3.9l-2.1 2l-1.6 1l-2 0.8l-2.9 0.6l-3 0l-3-0.5l-9-2.5l-3-0.4l-3 0.2l-3 0.7l-3 1.4l-3 2.2l-5 4.4l-1 0.4l-5 1l-5 0.7l-4 0.1l-3-0.4l-3-0.9l-2-1.4l-1-1.3l-0.5-1.1l-0.6-2l-0.2-2l0.4-4.9l-0.5-4l-0.1-2l0.5-5l-0.6-3.9l-0.1-2l0.7-5l-0.3-4.9l0.4-5l-0.3-2l-0.4-1l-1.4-1.7l-2-1.1l-2-0.5l-13.9-0.8l-4 0l-10 0.6l-12 0.1l0-4.5zM123.1 -1l17.7 0l0 5.4l-7-0.8l-4-0.8l-3-1l-1.4-0.8l-1.6-1.2zM140.1 32.7l0.7-0.3l0 8.2l-2.5-2.9l-0.7-1l-0.2-1l0.4-1.3l0.6-0.7l1.4-0.8zM140.8 61.5l0 2l-2.1 0l1.1-1.2z"/>
<path fill="#96f000" d="M-1 -1l65.8 0l3.1 1.1l2 0.4l6-0.5l3 0.2l2 0.3l3 0.9l2 0.8l10 5.2l8 3.3l4.4 3.2l5.5 3.4l3 2.5l2.2 3l1.2 3l0.2 2l-0.3 2l-0.9 1.9l-4.4 6.2l-2.4 5.8l-1.5 1.9l-1.2 1l-1.9 1.1l-2.9 0.7l-3-0.1l-3-0.7l-6-2.4l-3-0.9l-3-0.4l-3 0.1l-3 0.6l-3 1.2l-2 1.3l-6 5l-2 1.1l-2 0.4l-4 0.4l-3 0l-3.2-0.4l-3-1l-1.7-1l-1.1-1l-1.3-2l-1.1-3l-0.6-5.9l0-8l-0.3-4.9l0.4-12.9l-0.1-5l-0.3-2l-0.7-2.2l-1-1.9l-1-1l-1-0.6l-2-0.5l-6 0.5l-7.9-1.2l-5-0.2l-6 0.6l-13 2.1l-4 0.3l0-2.8zM103.9 35.3l-0.5 0.4l0.3 1l1.2 0.3l0.9-0.2l0.4-0.1l0.5-1l-0.9-0.6l-0.9-0.2zM128.7 -1l12.1 0l0 4.1l-3-0.3l-3.3-0.8l-2.5-1l-3.2-1.9z"/>
<path fill="#fff000" class="k" d="M-1 -1l8 0l-5 1.6l-1.7 0.4l-1.3 0l0-1zM55.2 0l1.7-0.2l3 0.1l9 1.6l7 0.1l3 0.5l2.8 0.9l4.1 2l13.1 7.8l6 4.6l4.9 2l2 1.2l1 0.9l1.7 2.3l0.6 2l-0.1 2l-0.3 1l-0.9 1.4l-1 0.9l-2 1l-5.9 0.7l-2 0.6l-1 0.6l-0.8 0.7l-0.4 1l0.2 1l1 1l2 0.8l4.9 0.7l1 0.5l0.8 1l0.3 1l0 1l-0.8 1.9l-0.7 1l-1.2 1l-1.4 0.7l-1.9 0.5l-3-0.1l-2-0.7l-2.9-1.4l-4.1-2.5l-2-0.7l-2-0.4l-3-0.2l-4 0.4l-4 1.1l-2 1.1l-4 3.5l-2 1.5l-2 1.1l-2 0.6l-4 0.3l-4-0.5l-3-1l-2-1.2l-1-0.9l-1-1.2l-1-1.6l-0.5-1.3l-0.3-2l-0.5-15.9l0.1-5l0.4-5.9l-0.2-6l0.6-3.9l0.8-2l0.7-1l0.9-0.8l1-0.6l2-0.6zM133.1 -1l7.7 0l0 2.8l-2-0.1l-2-0.6l-3-1.6z"/>
<path fill="#ffdc00" class="k2" d="M136.7 -1l4.1 0l0 1.4l-1 0l-1-0.1l-0.8-0.3l-1.2-0.9zM56.3 3l1.6-0.6l2-0.3l4-0.1l10 0.8l3 0.5l2 0.7l3.8 1.9l7.2 5.5l9.9 6.5l3.1 1.7l4.9 2.1l1.5 1.1l0.9 1l0.5 1l0.3 1l0 1l-0.3 1l-0.7 1l-1.2 0.9l-1 0.5l-5.9 1.6l-2.2 0.9l-1.3 1l-0.8 1l-0.5 1l-0.3 1l0.1 1l0.9 1l2.1 0.6l5.9 1l1.3 0.4l1.4 1l0.4 1l0.1 1l-0.3 0.9l-0.7 1l-1.3 1l-1.8 0.6l-1 0.1l-2.8-0.7l-1.8-1l-1.1-1l-3.3-4.3l-2-0.8l-3-0.2l-4 0.1l-4 0.4l-4 0.6l-3 0.8l-1 0.5l-1 0.9l-2 3l-1 0.9l-2 0.9l-2 0.6l-3 0.2l-4-0.6l-3-1.1l-2.7-1.9l-1.3-1.3l-0.4-0.6l0-5l-0.9-6l-0.1-10.9l0.8-3.9l0.1-2l-0.5-5l1-2.8l1-1.6l1.6-1.5l1.4-0.9zM68.9 16.7l-0.4 0.2l-0.8 1l0.8 0.9l1.4 0.3l0.9-0.3l0.7-0.9l-0.6-1l-1-0.3z"/>
<path fill="#ffc800" class="k" d="M61 4l3.9-0.6l5 0.1l4 0.5l3 1l1.8 0.9l1.4 1l2 2l3.4 4l3.4 2.6l7.3 4.3l2.7 1.2l6 2.2l1.1 0.6l1.1 1l0.5 1l0 1l-0.5 1l-1.1 1l-2.1 0.7l-4 0.6l-2 0.5l-2.3 1.1l-4.4 3l-3.3 1.3l-5 1l-5 0.6l-4-0.2l-4-0.9l-1 0.2l-2.3 2l-2.3 3l-1.4 0.7l-1 0.2l-1.2 0.1l-1.8-0.3l-1.6-0.7l-1.1-1l-1.3-2.4l-1-2.9l-0.8-2.7l-0.4-1.9l0.3-9l1.1-3.9l0.3-2l-0.4-5l0.1-1l0.9-2l1.8-2l1.5-0.9l2.6-1zM66.9 15.7l-1.5 1.2l-0.3 1l0.6 0.9l1.7 1l1.5 0.4l1 0l1.9-0.4l1.8-1l0.6-0.9l-0.1-1l-1.1-1l-1.1-0.4l-2-0.3l-2 0.2zM101.1 41.7l1.8-0.4l2 0.2l0.9 0.3l1 0.7l0.6 1.2l-0.1 0.9l-0.7 1l-0.8 0.6l-0.9 0.4l-1 0l-1-0.2l-1.6-0.8l-1-1l-0.4-0.9l0-1l1-0.9z"/>
<path fill="#ffb400" class="k" d="M63.9 5l3-0.5l4 0.1l3 0.7l2 0.9l1.9 1.7l0.7 1l0.5 2l0 1l-0.5 1l-0.6 0.6l-1 0.4l-2 0.2l-7 0l-6 0.7l-1-0.1l-1-0.5l-1-1l-0.6-1.3l-0.1-2l0.3-1l0.6-1l0.9-1l1.4-1l2.5-0.9zM78.6 18.8l1.3-0.4l2-0.2l2 0.5l2 0.8l2.4 1.3l2.8 2l2 2l0.3 1l-0.2 1l-0.8 1l-3.1 3l-3 1.9l-3.4 1.5l-3 0.8l-3 0.4l-3-0.1l-4-0.4l-1 0.1l-5 1.4l-3 0.3l-2-0.6l-1-0.8l-1.3-1.6l-1-2l-0.4-1.9l-0.1-2l0.1-2l0.5-2l0.3-1l0.9-1.5l1-1.1l1-0.6l1-0.3l1 0l5.4 1.5l3.6 0.4l2-0.2l2-0.4l4-1.5zM102.4 43.7l0.5-0.4l1-0.3l1 0.2l0.6 0.5l0.4 0.9l-0.7 1l-1.3 0.3l-0.7-0.3l-0.9-1z"/>
<path fill="#ffa000" class="k" d="M65.7 5.9l2.2-0.4l2 0l2.3 0.4l1.9 1l1 1l0.5 1l0.1 1l-0.3 1l-1.5 1.2l-2 0.6l-3 0.2l-3-0.2l-2.4-0.8l-1.1-1l-0.3-1l0.1-1l0.7-1.2l0.8-0.8l1.2-0.6zM60.5 22.8l1.4-0.5l2-0.3l12-0.1l3 0.2l2.6 0.7l1.6 1l1 1l0.5 1l0.2 1l-0.1 1l-0.4 1l-0.7 1l-1 1l-1.4 0.9l-3.3 1.4l-3 0.6l-11 0.4l-2-0.3l-1-0.4l-1.1-0.7l-0.9-1l-0.6-0.9l-0.6-2l0.1-2l0.2-1l0.9-1.7l1-0.9z"/>
<path fill="#ff8c00" class="k" d="M67.1 6.9l1.8-0.4l1 0.1l1.5 0.3l1.4 1l0.5 1l-0.1 1l-0.8 1l-0.5 0.3l-1 0.3l-2 0.2l-1-0.2l-1.7-0.6l-1-1l-0.1-1l0.5-1l1.3-0.9zM63.5 23.8l3.4-0.7l5 0l4 0.6l2 0.8l1.5 1.3l0.4 1l0.1 1l-0.3 1l-0.6 1l-1.1 1l-1 0.5l-3 1l-4 0.4l-4-0.1l-2-0.4l-1-0.5l-1.4-0.9l-0.7-1l-0.3-1l-0.1-1l0.1-1l0.5-1l0.8-1l1.1-0.7z"/>
<path fill="#ff7800" class="k2" d="M68.5 7.9l1.4-0.1l1 0.6l0.4 0.5l-0.4 1l-1 0.4l-1 0l-0.9-0.4l-0.4-1l0.3-0.4zM65.2 24.8l1.7-0.6l3-0.3l2 0.2l2.4 0.7l1.4 1l0.7 1l0.2 1l-0.3 1l-0.8 1l-0.6 0.4l-2 0.9l-3 0.5l-3-0.3l-1.8-0.5l-1.4-1l-0.6-1l-0.2-1l0.2-1l0.7-1l1.1-0.8z"/>
<path fill="#ff6400" class="k" d="M66.4 25.8l1.5-0.7l1-0.2l2 0.1l1 0.3l1 0.5l0.9 1l0.2 1l-0.4 1l-1.2 1l-1.5 0.4l-2 0.1l-1-0.1l-1.1-0.4l-1.2-1l-0.3-1l0.2-1l0.4-0.5z"/>
<path fill="#ff5000" class="k" d="M67.6 26.8l1.3-0.8l1-0.1l1 0.3l0.7 0.6l0.2 1l-0.9 1l-1 0.2l-1.5-0.2l-1-1z"/>
</g>
<text x="67.9" y="15.3" class="cl" text-anchor="middle">50</text>
<text x="93.6" y="15.3" class="cl" text-anchor="middle">20</text>
<text x="116.1" y="12.8" class="cl" text-anchor="middle">0</text>
<text x="73.6" y="35.8" class="cl" text-anchor="middle">30</text>
<text x="60.2" y="46.1" class="cl" text-anchor="middle">20</text>
<text x="100" y="47.4" class="cl" text-anchor="middle">20</text>
<text x="44.3" y="49.2" class="cl" text-anchor="middle">0</text>
<rect class="red" x="49.8" y="4.6" width="64.0" height="46.2"/>
<path class="tk" d="M0.0 0v-1.2M0.0 62.5v1.2M17.8 0v-1.2M17.8 62.5v1.2M35.7 0v-1.2M35.7 62.5v1.2M53.5 0v-1.2M53.5 62.5v1.2M71.4 0v-1.2M71.4 62.5v1.2M89.2 0v-1.2M89.2 62.5v1.2M107.0 0v-1.2M107.0 62.5v1.2M124.9 0v-1.2M124.9 62.5v1.2"/>
<text class="ax" x="0.0" y="67.1" text-anchor="middle">0</text>
<text class="ax" x="17.8" y="67.1" text-anchor="middle">2</text>
<text class="ax" x="35.7" y="67.1" text-anchor="middle">4</text>
<text class="ax" x="53.5" y="67.1" text-anchor="middle">6</text>
<text class="ax" x="71.4" y="67.1" text-anchor="middle">8</text>
<text class="ax" x="89.2" y="67.1" text-anchor="middle">10</text>
<text class="ax" x="107.0" y="67.1" text-anchor="middle">12</text>
<text class="ax" x="123.4" y="67.1">14(cm)</text>
<text class="ax" x="-2.2" y="5.8" text-anchor="end">-2</text>
<text class="ax" x="-2.2" y="23.6" text-anchor="end">-4</text>
<text class="ax" x="-2.2" y="41.4" text-anchor="end">-6</text>
<text class="ax" x="-2.2" y="59.2" text-anchor="end">-8</text>
<text class="ax" x="-1.6" y="2.9" text-anchor="end" style="font-size:2.4px">(cm)</text>
</g>
<g transform="translate(11.0 109.3)">
<text x="69.7" y="-4.7" class="b" font-size="5.3" text-anchor="middle">100s</text>
<g clip-path="url(#mc)">
<rect x="-1" y="-1" width="141.8" height="64.5" fill="#0000f0"/>
<path fill="#0000f0" class="w" d="M-1 -1l141.8 0l0 45.8l-1-0.7l-1-0.2l-2 0.2l-1.9 0.5l-1.8 1l-1.1 1l-0.8 1l-0.2 1l0.8 0.6l1 0.2l3-0.1l3-0.6l1-0.5l1-0.9l0 16.2l-15.7 0l1-2l0.7-7.9l-0.1-1l-0.9-0.8l-1-0.2l-4 0.4l-2 0.5l-4 1.3l-4 0.6l-5.9-0.3l-5 0.3l-3 0l-3-0.4l-4-0.8l-3-0.2l-4 0.1l-3.9 0.5l-2.9 1l-2.1 1l-2.1 1.5l-1 1.3l-1 1.8l-1 2.3l-0.2 1l-69.7 0l0-16.5l1 0.3l1-0.1l1.2-0.6l0.5-1l-0.5-1l-1.2-0.5l-1-0.2l-1 0.3l0-33l1 0.2l1 0l1.4-0.5l0.9-1l0.1-1l-0.8-1l-0.6-0.3l-1-0.3l-1 0l-1 0.2l0-7.5zM138.8 7.9l-1 0.4l-0.7 0.6l0.2 1l0.5 0.4l1 0.3l1-0.2l0.6-0.5l0.2-1l-0.8-0.8l-0.8-0.2z"/>
<path fill="#1496ff" class="w" d="M-1 -1l95.2 0l1.8 1l2.9 1.3l2.3 0.7l2.7 0.3l1.9-0.2l2-0.6l2-1.3l1.1-1.2l29.9 0l0 6.4l-2-0.3l-2 0.1l-3 0.7l-1.7 1l-0.8 1l-0.3 1l0.1 1l0.5 1l0.9 1l1.6 1l1.7 0.6l2 0.4l3-0.3l0 29.4l-2-0.5l-2 0l-3 0.3l-3.4 0.9l-4.9 1.9l-10.7 5.9l-2 0.7l-3 0.6l-8.9 0.3l-3-0.1l-3-0.5l-5-1.3l-4-0.5l-4 0.2l-4 0.7l-5.2 2l-1.9 1l-0.9 0.7l-1 1.7l-0.6 1.5l-0.9 3l-0.4 2l-68 0l0-14.8l3 0l2-0.7l0.7-0.4l0.9-1l0.2-1l-0.4-1l-1.4-1.1l-2-0.7l-1-0.1l-2 0.1l0-28.8l3 0l2-0.4l1.8-0.7l1.6-1l1-1l0.7-1l0.2-1l-0.1-1l-0.7-1l-1.6-1l-1.9-0.6l-2-0.3l-4 0.1l0-5.1zM34 51.9l-0.8 0.7l-0.1 1l0.7 1l1.1 0.4l1.2-0.4l0.8-1l-0.1-1l-0.9-0.8l-1-0.2zM139.2 50.6l1.6-0.7l0 13.6l-13.1 0l2.1-6l1-1.8l0.9-1.1l1.1-1l1.6-1l4.4-1.8z"/>
<path fill="#00d8ff" d="M-1 -1l23.2 0l-3.2 1.6l-3 0.8l-17 1.6l0-3zM44.8 -1l39.7 0l2.6 2l2.8 1.6l3 1.4l2.9 1l2.1 0.4l3 0.4l7.9 0.2l5-0.4l3-0.9l1.1-0.7l0.6-1l1.3-4l21 0l0 4l-8-0.7l-3 0l-2 0.2l-3 1l-2.4 1.5l-0.6 0.9l-0.2 1l0.8 2l1.6 2l2.5 2l1.7 1l2.6 1.1l4 1l3 0.3l3-0.2l0 25.6l-3-0.4l-5-0.1l-4.8 0.5l-3.2 0.7l-2 0.7l-2 1.3l-3.8 3.2l-3.2 2.3l-3 1.3l-3 0.6l-4.9 0.2l-4-0.3l-3-0.6l-6-1.9l-4-0.7l-3 0.1l-4 0.7l-3 1l-5.7 2.3l-1.3 0.7l-1 0.9l-0.9 1.4l-0.7 1.9l-0.9 6l-66.4 0l0-13.4l4-0.1l2.5-0.4l1.5-0.5l1-0.5l1.3-1l0.6-1l0.2-1l-0.4-1l-1-0.9l-1.8-1l-3.9-1l-4-0.1l0-25.4l3 0l4-0.6l4-1.2l7-2.7l2-0.4l2 0l1 0.2l2 0.7l2 1.4l1.2 1.3l3.8 4.7l2 1.6l1.9 0.9l2 0.3l2 0l1-0.3l2-1.1l1.1-1.2l1.3-1.9l0.6-2l0.2-3l-0.9-7.9l0.1-3l0.3-2zM67.9 16.4l-0.8 0.5l-0.1 1l1.2 0.9l1.7 0.3l0.7-0.3l1-0.9l-0.2-1l-1.5-0.8l-1 0zM103.9 33.7l-1 0.3l-1 0.7l-0.4 1l0.4 1l1 0.6l1 0.4l1 0.1l0.9-0.2l1.8-0.9l0.5-1l-0.4-1l-0.9-0.5l-1-0.4l-0.9-0.2zM32 48.5l-1 0.3l-1.2 0.8l-0.5 1l-0.1 1l0.3 1l1.3 2l1.3 1l1.9 0.7l1.9 0.1l2-0.6l1.7-1.2l0.7-1l0.5-1l0.1-1l-0.2-1l-0.8-1.2l-1-0.6l-1-0.3l-2-0.3l-2.9 0.1zM138.9 52.6l1.9-0.8l0 11.7l-10.9 0l1.6-4l1.8-2.9l2.1-2l1.5-1l1.9-1z"/>
<path fill="#00f0f0" d="M-1 -1l15.9 0l-3.1 1l-4.1 1l-5.1 1l-2.6 0.3l-1 0.1l0-2.4zM49.7 -1l32.1 0l6.1 4.3l3 1.5l3 1.2l4 0.9l7.9 0.3l8 1.2l3 1l8.1 4.5l4.9 1.9l3 0.7l3 0.4l3 0.2l2-0.3l0 24.5l-4-0.5l-6-0.1l-4 0.3l-3.4 0.7l-1.6 0.6l-2 1.3l-4 4l-2.7 2l-2.3 1.1l-3 0.7l-4.9 0.2l-4-0.3l-3-0.7l-6-2.2l-3-0.6l-4 0l-4 0.8l-8 3l-2 1l-1.4 1l-0.8 1l-0.5 1l-0.7 1.9l-0.6 6l-65.9 0l0-13l5 0l4-0.9l2.1-1l1.3-1l0.7-1l0.2-1l-0.4-1l-1-0.9l-1.8-1l-1.1-0.4l-4-0.9l-3-0.2l-2 0.1l0-24.4l3 0l4-0.5l11-2.7l2-0.2l2 0.3l2 0.7l2 1.4l5 5.6l2 1.7l2 1.1l4.9 2.1l1 0.1l1-0.2l2-1.5l2-2.2l1.8-2.8l1.3-2.9l0.4-3l-0.6-6l-0.1-2.9l0.6-3l0.8-2zM66.9 15.9l-1.2 1l0.1 1l1 0.9l2.1 0.7l1 0l1-0.3l0.7-0.4l0.9-0.9l0-1l-0.6-0.7l-1-0.5l-1-0.2l-2 0.1zM101.9 33.7l-1.1 1l-0.3 1l0.4 1l1 0.8l1 0.4l2 0.3l2.6-0.5l1.5-1l0.4-1l-0.3-1l-0.3-0.2l-1-0.8l-2-0.6l-1.9 0l-1 0.2zM29 47.5l-1.3 1.1l-0.3 1l0.1 1l0.7 2l1.7 2l2.1 1.4l2 0.8l1.9 0.1l1.6-0.3l2-1l1.2-1l1.4-2l0.3-1l0-1l-0.2-1l-0.5-1l-1.3-1l-1.5-0.5l-6.9-0.1l-2 0.2zM35.9 31.7l-1.9 1l-1.2 1l-0.6 1l-0.2 0.9l0.1 1.1l0.7 1l1.2 0.5l0.9 0.2l2-0.3l1-0.4l1.1-1l0.6-1l0.3-1l0-1l-0.3-1l-0.7-0.9l-1-0.4l-1 0zM125.5 -1l15.3 0l0 3.2l-3-0.3l-8-1.5l-2-0.5l-2-0.7zM140.4 52.6l0.4-0.2l0 11.1l-10.2 0l1.6-4l2.1-2.9l2.2-2l1.6-1l1.7-0.8z"/>
<path fill="#00f0c8" d="M-1 -1l10.5 0l-6.1 2l-3.4 0.6l-1 0.1l0-1.7zM52.9 0l1.1-1l24.8 0l3.1 1.7l4 3l3 1.9l2 1l3 1.1l4 0.8l3 0.1l3-0.2l2.9 0.5l7 2.2l11 4.3l5.1 1.5l6.9 0.8l2 0.1l2-0.3l0 23.4l-5-0.6l-7-0.2l-4 0.1l-3 0.6l-1.7 0.9l-1.3 1l-3.1 3.9l-2.1 2l-2.8 1.6l-2 0.6l-2 0.3l-3.9 0.2l-4-0.4l-3-0.9l-6-2.3l-3-0.7l-4 0l-4 0.9l-9.5 3.7l-1.8 1l-1.1 1l-1.2 2l-0.6 1.9l-0.2 2l0 3l-0.2 1l-65.3 0l0-12.5l6-0.1l4-0.7l3-1.2l2.5-1.4l1.1-1l0.5-1l-0.3-1l-1.2-0.9l-2.2-1l-2.4-0.7l-3-0.7l-3-0.4l-5 0l0-23.4l2 0.1l4-0.4l10-1.7l3-0.2l2 0.1l1.4 0.5l1.6 0.8l1.3 1.2l6.5 7.9l0.7 1l0.3 1l-0.1 1l-2.7 4.9l-0.9 3l-0.2 3l0.6 2l-0.7 1l-1.8 0.8l-1.6 1.1l-0.6 1l-0.1 1l0.3 1l0.9 2l1.2 2l1.7 2l2.3 2l1.9 1l2 0.6l1.9 0.1l2-0.4l2.8-1.3l1.2-1l1.5-2l0.7-2l0.1-1l-0.3-1.4l-0.8-1.6l-1.2-1.3l-1-0.5l-1-0.3l-2 0.4l-1.6 0.7l-1.4 0.3l-1.5-0.3l-2-1l-1.3-0.9l-0.1-0.5l-0.7-0.5l1.7-0.8l1.1-0.2l2.8-0.2l4 0.1l1-0.2l1-0.7l1-1l1-1.6l1.4-3.4l1.3-5.9l0.9-3l1-2l2.9-5l1-1.9l0.2-1l0-2l-1-5l-0.1-3l0.6-2.9l0.8-1.6l1-1.4zM68.9 14.9l-3 0.5l-1 0.5l-0.8 1l0.2 1l1.1 0.9l1.5 0.7l2 0.4l1.3-0.1l1.7-0.5l0.7-0.5l0.8-0.9l0.1-1l-0.7-1l-1.9-0.8l-1.4-0.2zM102.9 32.7l-2 0.8l-1 1l-0.4 1.2l0.4 1l1.1 1l1.9 0.7l2 0.2l1.9-0.2l2.5-0.7l1.3-1l0.3-1l-0.3-1l-0.9-1l-1.9-0.8l-2-0.4l-1.9 0zM131.9 -1l8.9 0l0 2.3l-3.2-0.3l-4.8-1.6zM139.4 53.6l1.4-0.6l0 10.5l-9.6 0l1.6-3.7l1.5-2.3l2-1.9l2.5-1.8z"/>
<path fill="#00f078" d="M-1 -1l4 0l-3 1.2l-1-0.1l0-0.1zM60.8 0l2.1-0.5l3-0.1l4 0.5l4 0.2l3 0.7l2 1l1.8 1.2l5.2 4.7l2 1.5l3 1.4l3 0.9l7.2 1.4l4.7 1.2l7 1.3l8 2l4 0.8l4 0.5l5 0.2l5 0.1l2-0.2l0 21.3l-22-2.7l-1-0.3l-1-0.5l-2.7-2.9l-1.5-1l-1.8-0.7l-2-0.4l-2-0.2l-2.9 0l-2 0.3l-2 0.5l-1 0.5l-1.2 1l-0.5 1l-0.1 1l0.3 1l0.9 1l2 1l3.6 0.7l8.9-0.2l1.6 0.5l0.9 1l0.2 1l-0.3 2l-0.8 1.9l-0.7 1l-2.1 2l-2.8 1.4l-2 0.4l-1.9 0.2l-3 0l-2-0.3l-3-1l-6-3.1l-2-0.7l-2-0.4l-3 0l-3 0.6l-3 1l-5 2.2l-5 2l-1.5 0.7l-1.4 1l-0.9 1l-0.6 1l-0.5 2l-0.2 1.9l0.3 4l-0.3 1l-63.8 0l0-11.7l8 0.3l9-1.1l3 0.1l3 0.9l9 5.2l2 0.7l1.9 0.3l3-0.2l2-0.6l3.4-1.8l2.5-2l1.6-2l0.9-2l0.3-1l0.1-1l-0.2-4.9l0.1-2l0.7-4l1.1-5l0.2-3.9l1-3l1.3-2l1-1.2l2-1.5l2-0.9l1-0.1l2 0.1l7 1.4l2 0l2-0.4l1.2-0.4l1.6-1l0.9-0.9l0.3-1l-0.2-1l-0.8-0.8l-2-0.8l-4-0.5l-8 0.2l-2-0.6l-1.9-1.5l-0.7-1l-0.8-2l-0.3-2l0.3-1.9l1-2l0.9-1l1.3-1l1.2-0.7zM138.8 -1l2 0l-1 0.2l-1-0.2zM-1 18.8l0-0.2l3 0l11-0.5l4 0.1l2 0.4l1 0.4l1 0.8l2 2.4l1.4 2.6l0.6 3l-0.4 3l-0.8 1.9l-0.8 1.5l-2.1 2.5l-1.2 1l-1.7 1.1l-2 0.7l-3 0.5l-14 0.2l0-20.4zM140 54.6l0.8-0.3l0 9.2l-8.3 0l1.3-2.9l1.4-2.1l1.9-1.9l2.7-1.9z"/>
<path fill="#96f000" d="M63.6 2l3.3-0.5l6 0.3l3 0.9l2 1.2l2.1 2l0.7 1l0.8 2l0.4 2l0 1l-0.3 1l-0.7 0.5l-15-0.8l-3-0.7l-1.8-1l-1.1-1l-0.6-1l-0.3-1l0.1-2l0.4-0.9l0.7-1l1.1-1l1.5-0.8zM81.6 14.9l0.3-0.6l1-0.2l2 0.2l12 2.3l7 1.9l6.9 0.3l7 1.6l3 0.5l4 0l16-0.9l0 19.3l-7-1.1l-8-2.1l-3.4-1.4l-5.6-3.4l-3-1.1l-4-0.2l-9.9 0.6l-2 0.5l-1 0.4l-1.7 1.2l-0.7 1l-0.6 2l0.1 1l0.4 1l1.1 1l2.4 0.8l3 0.4l7.9 0.6l2 0.6l1.1 0.6l0.8 1l0.2 1l0 0.9l-0.3 1l-0.6 1l-0.9 1l-1.4 1l-1.9 0.8l-2 0.5l-1.9 0.1l-2-0.2l-2-0.4l-2.1-0.8l-1.8-1l-4.1-3.4l-2-1.2l-2-0.3l-3 0.1l-3 0.6l-3 1l-7 3.6l-7.6 2.6l-2.4 1.4l-0.7 0.6l-0.7 1l-0.4 2l0.1 1.9l0.7 4l-0.1 2l-61.8 0l0-10.8l2 0l7 0.8l8 0.1l3 0.3l4 1l9 3.6l2.9 0.6l3-0.1l2-0.5l5.1-1.9l3.8-2l2.7-2l0.9-1l1-2l0.2-2l-0.5-9.9l0.3-7.9l0.6-3l0.9-1.8l1-1.2l2-1.5l3-1l2-0.2l7 0.2l4-0.8l2-0.7l1.9-1l1.3-0.9l1.8-2.1zM-1 19.8l0-0.2l11 0.4l3 0.3l3 0.8l2 1.2l1.3 1.5l1 2l0.4 2l-0.2 2l-0.2 1l-0.9 1.9l-1.6 2l-1.1 1l-1.7 1.2l-3 1.2l-2.8 0.6l-4.2 0.5l-6 0.3l0-18.7zM139.2 56.6l1.6-0.9l0 7.8l-7 0l0.9-2l1.1-1.7l1.1-1.3l1.9-1.6z"/>
<path fill="#fff000" class="k" d="M64.7 4l2.2-0.7l3-0.2l3 0.5l2 0.9l1.7 1.4l0.6 1l0.3 1l-0.1 1l-0.5 1l-1.3 1l-2.7 0.8l-3 0.2l-3-0.3l-1.9-0.7l-1.5-1l-0.8-1l-0.4-1l0-1l0.3-1l0.7-0.9l0.6-0.6zM83.7 19.8l3.2 0.1l6 0.6l9 0.2l5.9 0.7l2 0.6l2 1.2l0.8 0.6l0.5 1l-0.2 1l-0.9 1l-1.8 1l-3.4 1.1l-2.9 0.4l-7-0.5l-2 0.3l-1 0.4l-1 0.8l-1 1l-3 5.4l-0.8 1l-1.2 0.9l-2.2 1.1l-6.8 2.7l-2 1.2l-2.6 2l-2.4 1.5l-2 0.6l-3 0.4l-3 0l-2-0.5l-1.4-1l-1.1-2l-2.2-9.9l-0.4-3l0.2-2.9l0.6-2l0.6-1l0.8-1l1.2-1l2.7-1.2l3-0.5l8-0.5l10-1.7zM-1 20.8l0-0.1l3 0.1l5 0.4l3.4 0.6l2.6 0.9l1.7 1.1l1.3 1.4l0.8 1.6l0.3 2l-0.4 2l-0.9 1.9l-1.8 2l-2 1.4l-2 0.9l-3 0.8l-4 0.7l-4 0.3l0-17zM133.3 21.8l7.5-0.7l0 17.4l-3-0.3l-3-0.8l-4-1.3l-3-1.4l-1.7-1l-2.4-2l-1.5-1.9l-0.6-1l-0.3-1l0-1l0.7-1l1.3-1l2.1-1l2.4-0.8l5-1.1zM96.7 41.7l2.2-0.6l4-0.2l3.9 0.3l2 0.5l1.5 1l0.7 1l0.2 0.9l-0.2 1l-0.6 1l-0.9 1l-1.7 1l-2.9 0.7l-2-0.1l-2.8-0.6l-1.9-1l-1.3-1l-0.8-1l-0.6-1l-0.2-0.9l0.2-1l0.4-0.4zM-1 54.6l0-0.9l1-0.1l9 1.7l12 1.1l6 1.3l5 1.8l3.9 0.5l3-0.1l9-2.2l3-0.5l2-0.1l2 0.5l1.2 0.9l1.3 2l0.5 1.8l0.1 1.2l-59 0l0-7.9zM140.2 57.5l0.6-0.3l0 6.3l-5.7 0l0.7-1.5l1-1.5l1-1.1l2-1.6z"/>
<path fill="#ffdc00" class="k2" d="M67.7 5l2.2-0.3l2 0.4l1.5 0.8l0.8 1l0.3 1l-0.2 1l-0.9 1l-1.5 0.7l-2 0.3l-2-0.3l-1.5-0.7l-1-1l-0.4-1l0.1-1l0.7-1l1.1-0.7zM-1 21.8l0-0.1l2 0l4 0.5l2.9 0.6l2.1 0.8l1.8 1.2l1 1l0.7 1l0.5 2l-0.3 2l-1 1.9l-0.9 1l-1.8 1.5l-2 1l-3 1.1l-3 0.6l-3 0.3l0-15.4zM66.4 22.8l10.5-0.5l3 0.1l2.7 0.4l2.7 1l1.4 1l0.9 1l0.4 1l0.1 1l-0.3 2l-0.7 1.9l-1.1 2l-1.7 2l-1.3 1l-1.8 1l-5.5 2l-1.8 0.9l-0.9 1.1l-1.5 2.9l-1 1l-1.6 0.5l-2.8-0.5l-1.6-1l-0.6-0.8l-0.4-1.1l-0.7-3l-3.5-5l-0.9-2l-0.4-1.9l0.1-2l0.3-1l0.5-1l1-1.4l1-0.8l1.4-0.8l3.6-0.9zM135.7 22.8l5.1-0.5l0 15.4l-3-0.4l-4.5-1.6l-3.4-2l-1.2-1l-1.5-1.9l-0.4-1l-0.2-1l0.2-1l0.5-1l0.9-1l2.6-1.5l4-1.3zM101.3 23.8l2.6-0.4l1.9 0.3l1 0.6l0.6 0.5l0.2 1l-0.5 1l-1.3 0.9l-0.9 0.3l-1 0l-1.3-0.2l-1.8-1l-0.8-1l0-1l0.9-0.8zM99 42.7l1.9-0.7l3-0.3l1.9 0.2l2.4 0.8l1 1l0.4 0.9l-0.1 1l-0.5 1l-1.2 1l-2 0.8l-1.9 0.2l-2-0.3l-1.7-0.7l-1.3-1l-0.8-1l-0.2-1l0.2-0.9l0.8-0.9zM-1 55.6l0-0.6l1-0.2l6 1.8l3 0.8l4 0.5l8 0.4l4 0.4l3 0.5l4 1.3l2.9 0.4l4 0.1l6-0.9l4 0.1l2 0.5l1.7 0.8l1 1l0.6 1l-55.2 0l0-6.9zM139.7 59.5l1.1-0.7l0 4.7l-4.4 0l1.2-2l1.2-1.3z"/>
<path fill="#ffc800" class="k" d="M68.4 6.9l1.5-0.2l1 0.2l0.9 1l-0.2 1l-0.7 0.5l-1 0.4l-1-0.2l-1.1-0.7l-0.2-1l0.3-0.5zM-1 22.8l0-0.1l2 0.1l3 0.4l2.2 0.6l2.1 1l1.3 1l0.9 1l0.5 1l0.2 2l-0.6 1.9l-0.6 1l-2.2 2l-1.8 1l-2.5 1l-2.5 0.6l-2 0.1l0-13.6zM65.4 23.8l2.5-0.5l2-0.1l6 0.2l2.2 0.4l1.8 0.6l2.3 1.4l0.9 1l0.5 1l0.2 1l-0.2 2l-0.4 0.9l-1.3 1.8l-1 0.9l-1 0.6l-2 0.9l-3 0.4l-5-1l-5 0.1l-2-0.8l-1-0.8l-1-1.2l-0.7-1.8l-0.1-2l0.3-1l0.5-1l0.8-1l1.3-1l1.9-0.8zM137.4 23.8l3.4-0.3l0 13.3l-2-0.1l-2.6-1l-1.8-1l-2.6-2l-1.4-1.9l-0.3-1l0-1l0.3-1l0.7-1l1.2-1l1.5-0.9l3-1zM102.4 42.7l1.5-0.2l1.6 0.2l1.3 0.5l0.8 0.5l0.5 0.9l0 1l-0.6 1l-1.7 1l-0.9 0.2l-2-0.1l-1-0.3l-1.3-0.8l-0.7-1l-0.1-1l0.5-0.9l1.6-0.9zM-1 57.5l2 0.1l5 1.6l4 0.8l4 0.3l12 0l7 1.4l5.9 0.6l6 0.1l2 0.4l1.7 0.7l-49.6 0l0-5zM140.8 60.5l0 3l-3 0l0.6-1l1.4-1.3z"/>
<path fill="#ffb400" class="k" d="M-1 23.8l2 0l2 0.4l1.8 0.6l1.2 0.6l1.7 1.4l0.6 1l0.4 1l0.1 1l-0.6 1.9l-0.7 1l-1 1l-1.4 1l-1.9 1l-2.2 0.8l-1 0.2l-1-0.1l0-11.8zM65.3 24.8l2.6-0.8l2-0.2l2 0.1l4 0.7l2.6 1.2l1.1 1l0.6 1l0.3 1l0 1l-0.3 1l-0.6 0.9l-1.7 1.5l-2 0.8l-3 0.2l-6-0.4l-2-0.5l-1-0.6l-1.1-1l-0.5-0.9l-0.3-1l0-1l0.2-1l0.5-1l1-1l1.2-0.8zM139.5 24.8l1.3 0l0 10.7l-1 0.1l-1-0.1l-1.6-0.8l-2.4-1.7l-1.1-1.3l-0.5-0.9l-0.2-1l0.1-1l0.4-1l0.9-1l1.4-1l3-0.9zM102.6 43.7l1.3-0.3l1 0l0.9 0.4l0.9 0.8l0.1 1l-0.9 1l-1 0.4l-1 0l-1.4-0.4l-1-1l0-1l0.4-0.3zM19.6 62.5l6.4-0.4l6 0.8l2.9 0.1l2.3 0.5l-37.3 0l4.1-0.4l9 0l6-0.5zM140.6 62.5l0.2-0.1l0 1.1l-1.4 0l0.4-0.4z"/>
<path fill="#ffa000" class="k" d="M67.6 24.8l2.3-0.3l3 0.3l2.6 1l1.3 1l0.7 1l0.2 1l-0.1 1l-0.7 1.2l-0.9 0.7l-1.1 0.6l-3 0.6l-3-0.1l-2-0.4l-1-0.4l-1-0.7l-0.5-0.5l-0.6-1l-0.1-1l0.2-1l0.5-1l1-1l1.5-0.8zM-1 25.8l0-1l1 0l2 0.4l1.6 0.6l1.4 1l0.8 1l0.5 1l0.1 1l-0.1 1l-0.5 0.9l-0.7 1l-1.1 1l-1.6 1l-1.4 0.7l-1 0.3l-1-0.1l0-8.8zM137.6 26.8l1.2-0.5l2 0l0 7.3l-1-0.1l-1-0.3l-1-0.5l-1-1l-0.6-0.9l-0.3-1l0.1-1l0.8-1.3zM103.5 44.6l0.4-0.1l1 0l0.2 0.1l0.2 1l-0.4 0.3l-1 0.1l-0.6-0.4z"/>
<path fill="#ff8c00" class="k" d="M67.2 25.8l1.7-0.6l2 0l2.1 0.6l1.5 1l0.7 1l0.2 1l-0.4 1l-1 1l-2.1 0.7l-2 0.1l-2-0.3l-1.2-0.5l-1-1l-0.4-1l0.1-1l0.6-1l0.9-0.8zM-1 26.8l0-0.7l1 0l1 0.2l1.2 0.5l1.1 1l0.5 1l0.1 1l-0.2 1l-0.5 0.9l-1 1l-1.2 0.8l-0.8 0.2l-1.2 0.1l0-6z"/>
<path fill="#ff7800" class="k2" d="M67.5 26.8l1.4-0.8l1-0.1l1 0.2l1.5 0.7l0.7 1l0 1l-0.8 1l-0.4 0.2l-1 0.3l-2-0.1l-1-0.4l-0.9-1l-0.1-1z"/>
<path fill="#ff6400" class="k" d="M69.7 26.8l0.3 0l1 1l-1.1 0.9l-1-0.4l-0.3-0.5l0.3-0.5z"/>
</g>
<text x="13.3" y="20.5" class="cl" text-anchor="middle">0</text>
<text x="67.9" y="23.8" class="cl" text-anchor="middle">45</text>
<text x="103.8" y="23.8" class="cl" text-anchor="middle">20</text>
<text x="65.3" y="41.7" class="cl" text-anchor="middle">20</text>
<text x="81.8" y="43.5" class="cl" text-anchor="middle">5</text>
<text x="98.7" y="13.5" class="cl" text-anchor="middle">0</text>
<text x="107.4" y="34.6" class="cl" text-anchor="middle">0</text>
<text x="45.9" y="49.4" class="cl" text-anchor="middle">10</text>
<text x="124.8" y="33.3" class="cl" text-anchor="middle">45</text>
<text x="125.4" y="40.2" class="cl" text-anchor="middle">20</text>
<rect class="red" x="50.9" y="4.3" width="64.2" height="46.1"/>
<path class="tk" d="M0.0 0v-1.2M0.0 62.5v1.2M17.8 0v-1.2M17.8 62.5v1.2M35.7 0v-1.2M35.7 62.5v1.2M53.5 0v-1.2M53.5 62.5v1.2M71.4 0v-1.2M71.4 62.5v1.2M89.2 0v-1.2M89.2 62.5v1.2M107.0 0v-1.2M107.0 62.5v1.2M124.9 0v-1.2M124.9 62.5v1.2"/>
<text class="ax" x="0.0" y="67.1" text-anchor="middle">0</text>
<text class="ax" x="17.8" y="67.1" text-anchor="middle">2</text>
<text class="ax" x="35.7" y="67.1" text-anchor="middle">4</text>
<text class="ax" x="53.5" y="67.1" text-anchor="middle">6</text>
<text class="ax" x="71.4" y="67.1" text-anchor="middle">8</text>
<text class="ax" x="89.2" y="67.1" text-anchor="middle">10</text>
<text class="ax" x="107.0" y="67.1" text-anchor="middle">12</text>
<text class="ax" x="123.4" y="67.1">14(cm)</text>
<text class="ax" x="-2.2" y="5.8" text-anchor="end">-2</text>
<text class="ax" x="-2.2" y="23.6" text-anchor="end">-4</text>
<text class="ax" x="-2.2" y="41.4" text-anchor="end">-6</text>
<text class="ax" x="-2.2" y="59.2" text-anchor="end">-8</text>
<text class="ax" x="-1.6" y="2.9" text-anchor="end" style="font-size:2.4px">(cm)</text>
</g>
<g transform="translate(166.6 109.3)">
<text x="69.7" y="-4.7" class="b" font-size="5.3" text-anchor="middle">325.2s</text>
<g clip-path="url(#mc)">
<rect x="-1" y="-1" width="141.8" height="64.5" fill="#0000f0"/>
<path fill="#0000f0" class="w" d="M-1 -1l141.8 0l0 64.5l-9.8 0l0.3-5l-0.4-1.9l-0.6-1l-1.5-1.5l-2.2-1.5l-2.8-1.3l-2-0.5l-10 1.3l-7.9 0.3l-3 0.4l-6 0.8l-4 1l-3 1.3l-2.1 1.6l-1.3 2l-0.7 2l-0.4 2l-84.4 0l0-63.5z"/>
<path fill="#1496ff" class="w" d="M-1 -1l141.8 0l0 64.5l-4.6 0l0.6-2l3.3-4.9l0.3-1l-0.1-1l-0.7-1l-1.8-0.9l-10-4.2l-3-0.8l-2-0.1l-4 0.4l-7 1.7l-4 0.7l-3.9 0.3l-10 0.3l-3 0.4l-2 0.6l-3 1.7l-1.1 0.9l-1.7 2l-1.2 1.9l-0.9 2l-0.8 3l-81.2 0l0-63.5z"/>
<path fill="#00d8ff" d="M-1 -1l141.8 0l0 50.9l-5-2l-7-3.5l-3-0.8l-2-0.3l-2 0.1l-3 0.6l-3 1.1l-5.5 2.5l-2.5 0.8l-2 0.4l-3.9 0.1l-9-1l-4 0.3l-3 1l-1.9 1.4l-1.1 1.2l-2 3l-2.4 4.7l-0.4 1l-0.7 3l-78.4 0l0-15.5l1 0.5l1 0.1l1-0.1l1.3-0.9l0.1-1l-0.6-1l-1.8-1l-1 0l-1 0.5l0-45.1zM0 10.2l-0.4 0.7l-0.2 1l0.2 1l0.5 1l1.2 1l1.7 0.7l2 0.4l1 0l0.3-0.1l0.8-1l-0.4-1l-2.2-2l-1.5-1l-2-0.9zM137.8 9.9l-0.3 1l0.3 0.3l1 0l0.3-0.3l0.3-1l-0.6-0.4z"/>
<path fill="#00f0f0" d="M-1 -1l141.8 0l0 10.6l-0.5-0.7l-0.5-0.3l-1-0.2l-2.1 0.5l-1.8 1l-1.1 1l-0.7 1l-0.2 1l0.6 1l0.3 0.1l2 0.4l3-0.5l1-0.5l1-0.9l0 36.1l-4-1.6l-5-2.9l-3-1.5l-2-0.7l-3-0.6l-2 0.1l-3 0.7l-3 1.4l-5.4 3.1l-2.3 1l-2.3 0.6l-1.9 0.2l-2-0.1l-10-1.8l-2 0l-2 0.2l-2 0.6l-1 0.5l-2 1.7l-1 1.3l-1.5 2.8l-2.8 5.9l-1.2 4l-77.4 0l0-11.4l5 0.5l2-0.1l2-0.5l1.2-0.4l1.8-1.2l0.7-0.8l0.5-1l0.1-1l-0.4-1l-0.9-1l-1.8-1l-1.2-0.4l-1.8-0.5l-3.2-0.6l-2-0.1l-2 0.2l0-26l4 2.8l4 1.8l13 4.6l2 0.5l2 0.2l1.9-0.3l1.1-0.5l1.5-1.5l0.6-1l0.8-2l0.4-3l-0.3-1.9l-0.5-1l-0.5-0.6l-1-0.6l-2-0.5l-8-0.7l-4-0.7l-4-1.1l-9-3l-1-0.1l-1 0.6l0-9.2z"/>
<path fill="#00f0c8" d="M-1 -1l141.8 0l0 9.4l-1-0.5l-1-0.1l-1.7 0.1l-3.2 1l-2.1 1l-3.4 2l-2.2 2l-0.7 1l-0.4 1l0 1l0.5 1l1.2 0.8l1 0.2l2 0l3-0.8l8-3.2l0 32.4l-2-0.6l-2-1l-5-3.6l-3-1.9l-3-1.2l-3-0.5l-3 0.5l-2 0.8l-2 1.4l-5.6 4.4l-1.7 1l-2.7 0.9l-1.9 0.3l-2-0.2l-8-2.2l-3-0.6l-3-0.2l-2 0.3l-2 0.8l-1 0.7l-1 1.1l-0.7 1.1l-4.8 11.9l-0.9 3l-76.5 0l0-7l8 1.7l3 0.3l2-0.1l4-0.7l8-2.6l3-0.7l4-0.4l3.9 0.3l3.6-0.7l2.9-1l1.5-1.1l1-1.4l0.6-1.5l1.7-6.9l0.3-4l-0.4-3l-0.8-2l-3.4-6.4l-1.5-3.5l-1.1-4l-1.7-8.9l-0.7-1.4l-1-1l-1-0.5l-1.9-0.1l-2 0.4l-7 2.1l-4 0.7l-3 0.2l-3 0l-3-0.4l-10-1.9l-1 0l-1 0.4l0-8.4zM-1 21.8l0-0.2l3 2l6.3 3.2l3 2l1.1 1l1.6 1.9l0.5 1l0.4 2l-0.4 2l-0.7 1l-1 1l-1.6 1l-2.2 0.8l-2 0.4l-8 0.8l0-18.9z"/>
<path fill="#00f078" d="M-1 -1l35.9 0l-1.9 0.7l-8 4.2l-4 1.7l-5 1.2l-5 0.5l-9-0.4l-3 0.3l0-7.2zM38.5 -1l102.3 0l0 8.1l-2-0.4l-2 0l-13 1.7l-12 0.4l-2 0.6l-1 0.7l-0.7 0.8l-1.3 1.9l-1 2.1l-3.4 7.9l-4.1 7l-0.6 1.9l0 1l0.3 1l0.9 1l1.3 1l2.7 1.3l3.9 1l1 0.4l1.3 1.3l0.3 1l0 1l-0.8 2l-0.7 0.9l-1.2 1l-0.9 0.5l-0.9 0.3l-1 0.1l-2.8-0.9l-3-1.9l-2.1-2l-3.1-3.8l-2-1.7l-2-1.1l-8-3.1l-3-1.8l-2-1.9l-3.4-4.5l-1-1l-1.6-1.1l-1-0.2l-1 0.1l-5 1.2l-2 0.2l-2-0.1l-2-0.3l-2-0.7l-3-1.5l-2.7-2.5l-2-3l-1.4-4l-1.5-6.9l-0.9-2l-0.7-1l-1.3-1l-2.5-0.9zM140.6 22.8l0.2-0.5l0 21.5l-1-0.5l-1-0.8l-2.7-2.8l-1.3-2l-0.4-1l-0.4-2l0.4-2l0.6-1l0.8-1.1l2.9-2.8l0.6-1l1-3zM-1 29.8l0-0.6l2 0.8l1.5 0.8l1.4 0.9l0.8 1l0.5 1l0.1 1l-0.2 1l-0.6 1l-1.2 1l-2.3 0.9l-2 0.3l0-8.1zM60 45.6l1.9-0.7l3-0.2l2 0.4l2 0.7l4 0.2l1 0.3l1 0.5l1 0.8l0.6 1l0.6 2l0 3l-0.8 3l-2.6 6.9l-18.7 0l-0.4-3l0-2l1-3.9l0.5-4l0.8-1.9l0.7-1.1l1.3-1.2l1-0.7z"/>
<path fill="#96f000" d="M-1 -1l27.6 0l-6.6 3.6l-5 1.8l-3 0.7l-3 0.4l-10 0.6l0-6.1zM54.2 0l1.6-1l9.2 0l3.3 1l1.6 0.2l3.3-1.2l16.9 0l1.8 2.9l1.2 3.1l0.8 2.9l0.2 2l-0.2 2l-0.6 2l-1.2 2l-1.9 2l-1.4 0.9l-1.9 0.9l-2 0.5l-3 0.2l-2-0.2l-3-0.6l-7-2.1l-6 0.7l-2 0l-3-0.5l-2-0.7l-2-1.3l-1.8-1.8l-1.1-2l-0.7-2l-0.2-2l0.2-2.9l1.2-3l1.4-1.8zM110.2 -1l30.6 0l0 7.1l-3-0.4l-10-0.2l-6-0.8l-3-0.8l-3-1.2l-2-1.1l-3-2.1zM65 48.6l2.9-0.2l3 0.5l2 0.8l1 0.9l0.6 1l0.5 2l-0.2 2l-0.9 2.6l-2.3 5.3l-11.6 0l-0.4-1l-0.6-2l-0.3-2l0.1-1.9l0.7-3l0.9-2l0.8-1l1.7-1.3l2-0.7z"/>
<path fill="#fff000" class="k" d="M-1 -1l22 0l-5 2.6l-4 1.5l-5 1.1l-8 1l0-5.2zM116.9 -1l23.9 0l0 6.1l-9-1l-5-0.9l-5-1.6l-4-2zM61.4 2l2.5-0.4l6 0.1l7-0.6l2 0.2l2 0.5l2.4 1.2l1.6 1.3l1.1 1.6l0.6 2l0.1 2l-0.6 2l-1.5 2l-1.7 1.2l-2 0.8l-2 0.5l-2 0.1l-7-0.5l-5-0.1l-3-0.5l-1.5-0.5l-1.5-0.9l-1.3-1.1l-1.3-2l-0.5-2l0.2-2l0.8-1.9l0.9-1l1.3-1l1.9-0.9zM65.1 51.6l1.8-0.6l1-0.2l2 0.2l1 0.4l1 0.7l0.9 1.5l0.1 1l-0.4 2l-2.6 4.9l-1 1.3l-1 0.3l-1 0l-1.8-0.6l-1.2-1l-1.2-2l-0.3-1l-0.2-1.9l0.4-2l0.5-1l0.7-1l1.1-0.9z"/>
<path fill="#ffdc00" class="k2" d="M-1 -1l17.2 0l-3.8 2l-3.4 1.3l-5 1.2l-5 0.7l0-4.2zM122.4 -1l18.4 0l0 5.2l-6-0.9l-4-0.9l-4.3-1.4l-3.7-1.8zM63.5 4l3.4-0.7l6-0.2l2 0.2l2 0.5l2.3 1.2l1.1 0.9l0.7 1l0.4 1l0.1 1l-0.1 1l-0.4 1l-0.7 1l-1.1 1l-1.3 0.7l-2 0.6l-2 0.3l-5 0.1l-4-0.5l-2.7-1.2l-1.2-1l-0.8-1l-0.4-1l-0.2-1l0.1-1l0.3-1l0.6-1l1-0.9l1.3-0.8zM67.6 53.6l1.3-0.4l1.2 0.4l0.6 1l-0.3 1l-0.5 0.7l-1 0.7l-1 0.2l-1-0.4l-0.5-1.2l0.2-1l0.3-0.4z"/>
<path fill="#ffc800" class="k" d="M-1 -1l13.1 0l-3.1 1.6l-3.6 1.4l-3.4 0.8l-3 0.5l0-3.3zM127 -1l13.8 0l0 4.2l-3-0.3l-3.7-0.9l-2.9-1l-3.4-1.6zM66.6 5l3.3-0.5l3 0.3l2 0.7l0.8 0.4l1.1 1l0.5 1l0.2 1l-0.2 1l-0.5 1l-0.9 0.8l-2 1l-3 0.5l-3-0.1l-2-0.6l-1.3-0.6l-0.7-0.6l-0.9-1.4l-0.3-1l0.2-1l0.5-1l0.5-0.5l0.5-0.5l1.5-0.7z"/>
<path fill="#ffb400" class="k" d="M-1 -1l9.5 0l-4 2l-2.5 0.8l-2 0.4l-1 0.1l0-2.3zM130.8 -1l10 0l0 3.3l-2-0.2l-2-0.5l-1.9-0.6l-3.1-1.5zM66.6 6.9l1.3-0.6l1-0.2l2 0l1 0.3l1.2 0.5l0.9 1l0.3 1l-0.4 1.2l-1 0.9l-2 0.8l-2 0l-1-0.3l-1.3-0.6l-0.9-1l-0.2-1l0.4-1.2z"/>
<path fill="#ffa000" class="k" d="M-1 -1l6.3 0l-3.3 1.7l-2 0.6l-1 0.1l0-1.4zM134 -1l6.8 0l0 2.3l-2.8-0.3l-3.2-1.5zM68.7 7.9l1.2-0.2l1 0.4l0.5 0.8l-0.5 1l-1 0.3l-1-0.1l-0.3-0.2l-0.6-1z"/>
<path fill="#ff8c00" class="k" d="M-1 -1l3.5 0l-1.6 1l-0.9 0.3l-1 0l0-0.3zM136.8 -1l4 0l0 1.2l-1 0.1l-1.5-0.3l-1.5-1z"/>
</g>
<text x="73.1" y="14.2" class="cl" text-anchor="middle">20</text>
<text x="78.2" y="26.5" class="cl" text-anchor="middle">5</text>
<text x="121.3" y="13.1" class="cl" text-anchor="middle">5</text>
<text x="52.5" y="48.8" class="cl" text-anchor="middle">5</text>
<text x="102.5" y="48.8" class="cl" text-anchor="middle">0</text>
<rect class="red" x="49.8" y="4.3" width="64.0" height="46.1"/>
<path class="tk" d="M0.0 0v-1.2M0.0 62.5v1.2M17.8 0v-1.2M17.8 62.5v1.2M35.7 0v-1.2M35.7 62.5v1.2M53.5 0v-1.2M53.5 62.5v1.2M71.4 0v-1.2M71.4 62.5v1.2M89.2 0v-1.2M89.2 62.5v1.2M107.0 0v-1.2M107.0 62.5v1.2M124.9 0v-1.2M124.9 62.5v1.2"/>
<text class="ax" x="0.0" y="67.1" text-anchor="middle">0</text>
<text class="ax" x="17.8" y="67.1" text-anchor="middle">2</text>
<text class="ax" x="35.7" y="67.1" text-anchor="middle">4</text>
<text class="ax" x="53.5" y="67.1" text-anchor="middle">6</text>
<text class="ax" x="71.4" y="67.1" text-anchor="middle">8</text>
<text class="ax" x="89.2" y="67.1" text-anchor="middle">10</text>
<text class="ax" x="107.0" y="67.1" text-anchor="middle">12</text>
<text class="ax" x="123.4" y="67.1">14(cm)</text>
<text class="ax" x="-2.2" y="5.8" text-anchor="end">-2</text>
<text class="ax" x="-2.2" y="23.6" text-anchor="end">-4</text>
<text class="ax" x="-2.2" y="41.4" text-anchor="end">-6</text>
<text class="ax" x="-2.2" y="59.2" text-anchor="end">-8</text>
<text class="ax" x="-1.6" y="2.9" text-anchor="end" style="font-size:2.4px">(cm)</text>
</g>
<g transform="translate(11.0 191.8)">
<text x="69.7" y="-4.7" class="b" font-size="5.3" text-anchor="middle">278.2s</text>
<g clip-path="url(#mc)">
<rect x="-1" y="-1" width="141.8" height="64.5" fill="#0000f0"/>
<path fill="#0000f0" class="w" d="M-1 -1l141.8 0l0 64.5l-13.2 0l2.7-6.9l0.2-2l-0.2-1l-1-2l-0.8-1l-1.3-1l-2-1l-2.4-0.4l-2 0.3l-6 2.4l-4 0.8l-6.9 0.2l-8 0.7l-9-0.1l-3 0.4l-1.7 0.7l-1.3 0.9l-4 3.8l-2 1.6l-6.6 3.6l-69.3 0l0-63.5z"/>
<path fill="#1496ff" class="w" d="M-1 -1l141.8 0l0 64.5l-9.7 0l3.5-7.9l0.2-2l-0.2-1l-0.8-1.7l-0.9-1.3l-2.1-2l-1.6-1l-1.4-0.5l-3-0.6l-2 0.1l-2 0.5l-2 0.8l-5.4 2.7l-2.6 0.8l-2 0.4l-9.9 0.4l-12-0.7l-2 0.2l-2 0.4l-3 1.6l-5 4.2l-2 1.4l-6.5 3.2l-3.5 2l-63.9 0l0-63.5z"/>
<path fill="#00d8ff" d="M-1 -1l101.2 0l2.7 1.7l1 0.4l1 0.1l1.9-0.5l1.2-0.7l0.8-1l32 0l0 8.1l-1-0.2l-2-0.1l-1.3 0.1l-1.7 0.5l-1.1 0.5l-1.4 1l-0.6 1l-0.2 1l0.2 1l0.7 1l1.4 0.9l1 0.4l3 0.3l3-0.3l0 49.3l-6.3 0l1.3-2.9l2.9-4l1-2l0.1-1l-0.2-1l-0.3-1l-1.1-2l-3.4-3.7l-2.9-2.2l-3.1-1.3l-3-0.2l-2 0.2l-3 0.9l-2 1l-5 3.3l-1.8 1l-2.2 0.8l-2 0.5l-3.9 0.4l-4-0.1l-12-1.7l-3 0.1l-2 0.4l-2 0.7l-2 1.2l-5.7 4.7l-2.3 1.5l-2 0.9l-15.1 5.5l-54.8 0l0-33.2l2-0.3l1-0.5l1-1l0.4-0.7l0.2-1l-0.3-1l-0.9-1l-1.4-0.6l-2-0.1l0-24.1zM27 10.8l-2 0.5l-1.9 0.6l-3.5 2l-1.3 1l-2 2l-0.7 1l-0.7 1.9l-0.1 1l0.5 2l2.7 6l1 1.4l1 0.8l1 0.4l1 0.2l2-0.4l0.8-0.4l1.2-1l0.7-1l2.4-6l1.4-4.9l1.3-3l0.2-1l-0.1-1l-0.7-1l-1.2-0.7l-2-0.4z"/>
<path fill="#00f0f0" d="M-1 -1l97.6 0l3.1 2l2 1l2.2 0.6l1.9 0.2l2-0.2l2.1-0.6l1.5-1l0.8-1l0.4-1l28.2 0l0 7.4l-2-0.3l-2 0l-4.5 0.8l-2.2 1l-1.2 1l-0.6 1l-0.1 1l0.2 1l0.5 1l0.8 1l1.2 1l1.9 0.8l3 0.4l5-0.4l0 35.3l-0.7-1.4l-1.6-2l-3.7-3.7l-2-1.5l-2-1l-2-0.5l-2-0.2l-2 0.2l-2 0.5l-2 0.8l-3 1.8l-5 3.6l-2 1l-3.2 1l-3.7 0.4l-4-0.2l-3-0.4l-6-1.2l-3-0.4l-3 0.1l-2 0.4l-2 0.6l-2 1.1l-2 1.4l-4.8 4.2l-2.2 1.2l-4 1.4l-14 4l-3.7 1.3l-49.2 0l0-28.9l5-0.7l2.9-1.2l1.4-1l0.7-0.9l0.8-2l0.7-1l0.5-0.3l1-0.2l0.6 0.5l0.4 1l-0.1 2l0.4 1.9l1.4 2l2.3 1.9l2 0.8l2 0.3l2-0.2l1-0.2l2-1l2-1.6l0.9-1l1.4-2l0.4-0.9l0.8-4l0.5-1.1l1.6-2.9l0.3-1l0-1l-0.5-2l0.1-0.9l0.7-1l2.7-2.5l0.9-1.5l0.3-1l-0.3-1l-0.9-0.2l-2 0l-3.9-1.4l-2-0.4l-3-0.1l-3 0.5l-4 1.3l-9.9 4.3l-1.7 1l-2.4 2.1l-2 1.3l-2 0.6l-2 0.1l0-20zM140.2 56.6l0.6-1l0 7.9l-5.3 0l1.3-2.6l3-3.8z"/>
<path fill="#00f0c8" d="M-1 -1l93.8 0l5.3 3l2.8 1.2l4 1l3.9 0.3l4-0.4l2-0.7l0.6-0.4l0.6-1l0.3-1l-0.1-2l24.6 0l0 6.7l-3-0.3l-3 0l-4 0.4l-3 0.6l-1.8 0.5l-1.5 1l-0.5 1l-0.1 1l0.7 2l1.2 2l2 2l1.4 1l1.6 0.8l2 0.6l2 0.1l4-0.9l2-0.1l0 30.4l-5-5.4l-3-2.1l-3-1.1l-2-0.2l-2 0.2l-3 0.9l-3 1.4l-2 1.4l-5 4.1l-2 1.1l-2 0.8l-3 0.7l-3.9 0.1l-4-0.5l-9-2l-3-0.1l-3 0.4l-2 0.6l-2.8 1.5l-2.2 1.7l-4 3.5l-1.1 0.8l-1.9 0.8l-4 1.2l-7 1.5l-13 2.1l-2 0.7l-2.3 1.6l-41.6 0l0-6.6l2 0.1l2.3-0.4l6.7-2.8l3-0.3l4 0.4l4 0.9l7 1.8l4 0.6l2 0l1.9-0.4l1-0.6l0.5-0.6l0.5-1l0.1-1l-0.1-3l0.2-2l0.3-1l3.5-3.9l0.5-1l-0.5-1.3l-1.6-2.7l-0.3-2l0.3-1l1.6-2.8l0.5-1.2l-0.5-1.1l-1.4-1.8l-0.5-1l-0.2-1l0.5-2l1.6-2.8l0.5-1.2l-1.1-2.9l-0.2-2l0.3-2l0.9-3l0.1-1l-0.6-1l-1.3-1l-1.6-0.7l-1-0.2l-1 0l-2.9 0.7l-6-0.7l-4 0l-4 0.6l-7 1.6l-3 0.4l-4-0.3l-5-1.1l-1-0.1l-1 0.3l0-8.4zM-0.4 40.7l2.4 0.1l2.2 0.9l1.3 1l0.8 1l0.4 0.9l0.2 1l0 1l-0.4 1l-0.5 0.6l-1 0.6l-1 0.3l-2 0.3l-3 0.2l0-8.9zM140.3 58.5l0.5-0.6l0 5.6l-4.2 0l1-2l2.2-2.5z"/>
<path fill="#00f078" d="M-1 -1l85.4 0l4.5 1.6l7 3.6l3 1.3l6.9 2l3.8 1.4l3.2 1.6l3 1.9l5 4.2l3.3 3.2l2.6 3l1.8 3l0.6 2l0.2 2l-0.1 1l-0.4 0.9l-0.8 1l-2.7 2l-5.5 3.6l-2 1.6l-2 2l-2.2 2.7l-2.1 2l-1.5 1l-2.2 0.9l-2.9 0.6l-3-0.1l-3-0.5l-9-2.7l-3-0.4l-3 0.2l-3 0.8l-3 1.5l-3 2.2l-5 4.4l-1 0.4l-5 1l-5 0.6l-4 0l-3-0.4l-3-1l-2-1.5l-1.3-2l-0.6-2l-0.2-2l0.3-4.9l-0.6-4l-0.1-2l0.5-5l-0.6-3.9l-0.1-2l0.7-5l-0.4-4.9l0.4-6l-0.5-2l-0.5-1l-1-1.3l-1-0.8l-1-0.5l-2-0.4l-5.9-0.1l-10-1l-5 0.2l-11 1.3l-8 0.3l0-4.6zM103.9 35.5l-0.3 0.2l0.2 1l1.1 0.2l0.5-0.2l0.4-1l-0.9-0.4zM123 -1l17.8 0l0 5.4l-7-0.8l-4-0.7l-3-1l-1.6-0.9l-1.4-1.1zM140.1 32.7l0.7-0.2l0 8.1l-2.6-2.9l-0.7-1l-0.3-1l0.2-1l0.4-0.5l0.5-0.5l1.5-0.8zM140.8 61.5l0 2l-2.1 0l1.1-1.2z"/>
<path fill="#96f000" d="M-1 -1l10.7 0l-8.7 2.2l-2 0.1l0-1.3zM29.2 -1l35.4 0l3.3 1.1l2 0.4l4-0.4l3 0l3 0.3l2 0.4l4 1.5l10 5.2l8.2 3.4l3.7 2.6l5 2.7l3 2.1l2.7 2.5l1.9 3l0.7 2l0.2 2l-0.4 2l-0.4 1l-2 2.9l-4.4 5l-1.2 4l-1.1 1.9l-1.9 2l-1.6 1l-1.5 0.5l-1.9 0.4l-3-0.1l-3.2-0.8l-5.8-2.7l-2-0.7l-3-0.5l-4 0.1l-3 0.6l-3 1.3l-2 1.4l-6 5l-2 1.1l-3 0.5l-4 0.3l-3-0.2l-3-0.5l-3-1.3l-2-1.6l-1-1.4l-0.7-1.4l-0.8-3l-0.5-5.9l0-7l-0.3-4.9l0.3-7l0-10.9l-0.5-3.9l-1-3l-0.5-1l-0.9-1l-1.1-0.6l-1-0.2l-2 0.2l-5 1.2l-1.9-0.4l-3-1zM103.9 33.6l-1 0.4l-1.1 0.7l-0.5 1l0.1 1l1.1 1l1.4 0.5l1 0.1l1.9-0.2l1.7-0.4l1.3-0.8l0.2-0.2l0.2-1l-0.7-1l-1.7-0.8l-1-0.3l-1.9-0.1zM128.6 -1l12.2 0l0 4.1l-3-0.3l-3.3-0.8l-2.6-1l-3.1-1.9z"/>
<path fill="#fff000" class="k" d="M133.1 -1l7.7 0l0 2.8l-2-0.1l-2-0.6l-3-1.6zM53.1 1l2.8-0.8l4-0.2l3 0.4l6 1.1l5 0l3 0.2l4 1l4.7 2.3l6.3 3.9l6.9 4l6.1 4.5l4.9 1.6l1.7 0.8l1.4 1l1.8 2l0.5 1l0.6 2l-0.2 2l-0.4 1l-0.7 1l-1.2 1l-1.5 0.6l-2 0.3l-4.9 0.3l-3 0.7l-2 1l-0.9 1l-0.4 1l-0.1 1l0.6 1l1.6 1l2.2 0.5l4.9 0.6l1 0.3l1.1 0.6l0.7 1l0.1 1l-0.1 1l-0.4 0.9l-0.7 1l-1.1 1l-1.6 0.9l-1 0.3l-1.9 0.2l-2.6-0.4l-2.5-1l-1.6-1l-3.3-2.5l-2-1l-2-0.5l-3-0.2l-5 0.5l-4 1.2l-2 1.2l-4 3.6l-2 1.5l-2 1.1l-2 0.6l-3 0.3l-4-0.3l-3-0.9l-3-1.7l-1-0.9l-1.5-2l-0.6-1l-0.6-1.9l-0.6-17.9l0.1-4l0.4-4.9l-0.2-6l0.4-3l0.6-2.4l0.8-1.5l0.9-1l1.3-0.9zM69.9 17.7l-0.4 0.2l0.4 0.1l0.2-0.1z"/>
<path fill="#ffdc00" class="k2" d="M136.7 -1l4.1 0l0 1.3l-1 0.1l-1-0.1l-0.8-0.3l-1.2-0.9zM56.6 3l3.3-0.8l4-0.1l10 0.6l3 0.6l1.9 0.7l3.7 1.9l7.4 5.7l9.8 6.3l3.2 1.6l4.9 1.8l2.3 1.5l0.8 1l0.5 1l0.2 1l-0.1 1l-0.5 1l-0.9 1l-1.7 1l-1.6 0.4l-5.9 1.1l-2 0.6l-1.5 0.8l-1.3 1l-2.2 2.6l-1 0.8l-1 0.6l-2 0.5l-12 2l-3 0.8l-1 0.4l-1 0.9l-2 3.3l-1 0.9l-2 1l-2 0.5l-3 0.2l-4-0.6l-3-1.2l-3-2l-1.4-1.7l0-5l-0.9-6l-0.1-10.9l0.8-3.9l0.1-2l-0.5-5l1-2.7l1-1.5l1-1.1l2-1.3zM67.9 16.5l-0.5 0.4l-0.4 1l0.6 0.9l1.3 0.6l1 0.1l1-0.3l0.7-0.4l0.7-0.9l-0.3-1l-1.1-0.6l-1-0.2l-1 0.1zM99.3 40.7l2.6-0.2l3 0.2l1.9 0.4l1.2 0.6l0.8 1l0.2 1l-0.2 0.9l-1 1.3l-0.8 0.7l-1.2 0.5l-0.9 0.2l-2 0l-2-0.7l-1.6-1l-0.9-1l-0.7-0.9l-0.3-1l0.2-1l1.3-0.9z"/>
<path fill="#ffc800" class="k" d="M61.1 4l3.8-0.6l5 0.1l4 0.5l3 1l1.7 0.9l1.3 1l1.9 2l3.1 4l2.4 2l5.6 3.3l4 2l8.9 2.9l1.1 0.7l0.9 1l0.4 1l-0.1 1l-0.6 1l-1.4 1l-2.2 0.5l-4 0.2l-3 0.5l-3 1.4l-5.3 3.3l-2.3 1l-2.4 0.7l-4 0.9l-3 0.3l-3-0.2l-4-0.9l-1 0.2l-2.3 2l-2.3 3l-1.4 0.7l-2 0.3l-2-0.3l-1.7-0.7l-1.1-1l-1.2-2.2l-1-2.9l-0.9-2.9l-0.3-1.9l0.3-9l0.1-1l1.1-2.9l0.3-2l-0.4-5l0.1-1l0.9-2l1.8-2l1.5-0.9l2.5-1zM69.9 14.9l-3 0.4l-1.4 0.6l-1 1l-0.1 1l0.6 0.9l1.6 1l2.3 0.6l2-0.1l1.8-0.5l1.6-1l0.8-0.9l0-1l-0.8-1l-1.4-0.6l-2.4-0.4zM100.6 42.7l1.3-0.7l1-0.2l2 0.1l0.9 0.3l1 0.6l0.6 0.9l0 0.9l-0.6 1l-1 0.7l-0.9 0.4l-1 0.1l-1-0.2l-1.7-1l-0.8-1l-0.2-0.9z"/>
<path fill="#ffb400" class="k" d="M63.9 5l3-0.5l4 0l3 0.7l2 1.1l1.8 1.6l0.6 1l0.3 1l0 1l-0.3 1l-0.4 0.6l-1 0.6l-1 0.3l-13 0.8l-2-0.2l-1-0.4l-0.7-0.7l-0.6-1l-0.3-1l0-1l0.3-1l0.6-1l0.9-1l1.4-1l2.4-0.9zM59.4 19.8l1.5-0.1l5 1.2l4 0.4l3.9-0.5l5.1-1.5l3-0.4l2 0.4l2 0.7l2 1l2.5 1.8l1.1 1l0.6 1l0.1 1l-0.5 1l-1.7 2l-2.1 2l-2.7 1.9l-3.3 1.6l-3 0.8l-4 0.3l-5-0.4l-1 0.1l-5 1.4l-2 0.4l-2-0.2l-1-0.4l-1-0.7l-1.5-1.9l-0.9-2l-0.5-1.9l0-3l0.3-2l0.7-2l0.9-1.5l1-0.9l1-0.5zM101.7 25.8l1.2-0.4l1 0.1l1 0.6l0.2 0.7l-0.2 0.3l-1 0.4l-1.9-0.7l-0.1-0.5zM102.5 43.7l1.4-0.5l1 0.1l0.6 0.4l0.5 0.9l-0.5 1l-0.6 0.4l-1 0l-1-0.4l-0.7-1z"/>
<path fill="#ffa000" class="k" d="M65.6 5.9l2.3-0.4l2-0.1l2.4 0.5l1.8 1l1 1l0.4 1l0 1l-0.5 1l-1.3 1l-1.8 0.5l-3 0.3l-3-0.3l-2-0.6l-1.1-0.9l-0.5-1l0-1l0.6-1.1l0.8-0.9l1.2-0.6zM60.4 22.8l1.5-0.5l2-0.2l12-0.1l3 0.2l2.1 0.6l1.8 1l0.9 1l0.6 1l0.1 1l-0.1 1l-1 2l-0.9 1l-1.5 1.1l-3 1.3l-3 0.6l-6 0.2l-5 0.3l-2-0.2l-1-0.4l-1.5-1l-0.9-1l-0.6-1.1l-0.4-1.8l0-2l0.4-1.3l1-1.6l1-0.8z"/>
<path fill="#ff8c00" class="k" d="M67 6.9l1.9-0.4l1 0l1.6 0.4l1.3 1l0.5 1l-0.2 1l-1.2 1.1l-1 0.3l-2 0.2l-2-0.4l-1-0.7l-0.5-0.5l-0.2-1l0.4-1l1.3-0.9zM63.2 23.8l1.7-0.5l2-0.2l5-0.1l4 0.6l2.6 1.2l1 1l0.5 1l0 1l-0.2 1l-0.6 1l-1 1l-1.8 0.9l-1.5 0.6l-2 0.4l-5 0.2l-3-0.2l-1-0.2l-1.7-0.8l-1.2-0.9l-0.6-1l-0.3-1l-0.1-1l0.2-1l0.4-1l0.9-1l1.4-0.9z"/>
<path fill="#ff7800" class="k2" d="M68.5 7.9l1.4-0.1l1 0.6l0.4 0.5l-0.6 1l-0.8 0.3l-1 0l-0.7-0.3l-0.6-1l0.3-0.4zM68.8 23.8l3.1 0.2l2 0.5l0.8 0.3l1.4 1l0.7 1l0.1 1l-0.2 1l-0.7 1l-2.1 1.2l-3 0.7l-3.1 0l-2.9-0.6l-1-0.6l-0.8-0.7l-0.5-1l-0.1-1l0.2-1l0.6-1l1.6-1.1l3-0.8z"/>
<path fill="#ff6400" class="k" d="M68.1 24.8l1.8-0.1l2 0.3l1.6 0.8l0.8 1l0.2 1l-0.3 1l-1.3 1.1l-2 0.7l-2 0.1l-2-0.4l-1-0.5l-0.9-1l-0.3-1l0.2-1l0.9-1l2.1-1z"/>
<path fill="#ff5000" class="k" d="M68.3 25.8l1.6-0.2l1 0.2l1.3 1l0.2 1l-0.6 1l-0.9 0.5l-1 0.2l-1-0.1l-1.6-0.6l-0.6-1l0.3-1l0.9-0.8z"/>
<path fill="#ff3c00" class="k" d="M69.3 26.8l0.8 0l0.1 1l-0.3 0.2l-1-0.2l0-0.2z"/>
</g>
<text x="94.1" y="14.7" class="cl" text-anchor="middle">20</text>
<text x="66.4" y="36.7" class="cl" text-anchor="middle">45</text>
<text x="55.1" y="41.8" class="cl" text-anchor="middle">20</text>
<text x="44.8" y="50.0" class="cl" text-anchor="middle">0</text>
<text x="101.8" y="48.8" class="cl" text-anchor="middle">20</text>
<text x="110" y="50.0" class="cl" text-anchor="middle">0</text>
<text x="115.9" y="12.9" class="cl" text-anchor="middle">0</text>
<rect class="red" x="50.9" y="3.3" width="64.2" height="46.8"/>
<path class="tk" d="M0.0 0v-1.2M0.0 62.5v1.2M17.8 0v-1.2M17.8 62.5v1.2M35.7 0v-1.2M35.7 62.5v1.2M53.5 0v-1.2M53.5 62.5v1.2M71.4 0v-1.2M71.4 62.5v1.2M89.2 0v-1.2M89.2 62.5v1.2M107.0 0v-1.2M107.0 62.5v1.2M124.9 0v-1.2M124.9 62.5v1.2"/>
<text class="ax" x="0.0" y="67.1" text-anchor="middle">0</text>
<text class="ax" x="17.8" y="67.1" text-anchor="middle">2</text>
<text class="ax" x="35.7" y="67.1" text-anchor="middle">4</text>
<text class="ax" x="53.5" y="67.1" text-anchor="middle">6</text>
<text class="ax" x="71.4" y="67.1" text-anchor="middle">8</text>
<text class="ax" x="89.2" y="67.1" text-anchor="middle">10</text>
<text class="ax" x="107.0" y="67.1" text-anchor="middle">12</text>
<text class="ax" x="123.4" y="67.1">14(cm)</text>
<text class="ax" x="-2.2" y="5.8" text-anchor="end">-2</text>
<text class="ax" x="-2.2" y="23.6" text-anchor="end">-4</text>
<text class="ax" x="-2.2" y="41.4" text-anchor="end">-6</text>
<text class="ax" x="-2.2" y="59.2" text-anchor="end">-8</text>
<text class="ax" x="-1.6" y="2.9" text-anchor="end" style="font-size:2.4px">(cm)</text>
</g>
<g transform="translate(166.6 191.8)">
<text x="69.7" y="-4.7" class="b" font-size="5.3" text-anchor="middle">340.6s</text>
<g clip-path="url(#mc)">
<rect x="-1" y="-1" width="141.8" height="64.5" fill="#0000f0"/>
<path fill="#0000f0" class="w" d="M-1 -1l141.8 0l0 64.5l-9.8 0l0.3-5l-0.5-1.9l-0.6-1l-1.4-1.4l-2.2-1.6l-2.8-1.3l-2-0.5l-10 1.3l-7.9 0.3l-4 0.4l-5.4 0.8l-3.6 0.9l-3 1.4l-2.1 1.6l-1.3 2l-0.7 2l-0.4 2l-84.4 0l0-63.5z"/>
<path fill="#1496ff" class="w" d="M-1 -1l141.8 0l0 64.5l-4.6 0l0.6-2l2.8-4l0.5-0.9l0.3-1l-0.1-1l-0.7-1l-1.8-0.9l-10-4.2l-3-0.8l-2-0.1l-5 0.5l-6.1 1.5l-3.9 0.7l-3.9 0.3l-10 0.3l-3 0.4l-2 0.6l-3 1.7l-1.1 1l-1.7 2l-1.2 1.9l-0.9 2l-0.8 3l-81.2 0l0-63.5z"/>
<path fill="#00d8ff" d="M-1 -1l141.8 0l0 50.9l-5-2l-7-3.6l-3-0.9l-2-0.3l-2 0.1l-3 0.7l-3 1.1l-6 2.6l-4 1l-3.9 0.2l-9-1.1l-4 0.3l-3 1.1l-2 1.5l-1 1.1l-2 3.1l-2.4 4.7l-0.4 1l-0.7 3l-78.4 0l0-15.9l1 0.4l2 0l1-0.4l0.8-1l0-1l-1-1l-1.8-0.5l-1 0l-1 0.3l0-44.4zM0 10.3l-0.3 0.6l-0.2 1l0.2 1l0.7 1l1.6 1.1l2 0.9l2 0.5l1 0l0.9-0.5l-0.4-1l-0.8-1l-2.4-2l-1.5-1l-1.8-0.8zM138.8 9.5l-1 0.4l-0.3 1l0.3 0.3l1 0l0.3-0.3l0.3-1z"/>
<path fill="#00f0f0" d="M-1 -1l141.8 0l0 10.6l-0.4-0.7l-0.6-0.3l-1-0.2l-2.1 0.5l-1.8 1l-1.1 1l-0.7 1l-0.2 1l0.9 1.1l2 0.4l3-0.5l1-0.5l1-0.9l0 36.2l-4-1.6l-6-3.8l-2-1.1l-3-1l-2-0.2l-2 0.1l-3 0.8l-3 1.4l-5.8 3.3l-2.2 0.9l-2 0.5l-1.9 0.2l-2-0.1l-10-1.8l-2 0l-2 0.2l-2 0.6l-1 0.6l-2 1.7l-1 1.3l-4.3 8.8l-1.2 4l-77.4 0l0-11.6l3 0.4l3 0.1l4-0.7l2-0.8l2-1l2.7-2.3l2.1-3l1.9-4.9l0.9-1l4.4-3.3l2-2.2l1-1.5l1-2.1l1.2-3.8l0.6-3l0.2-3l-0.2-1.9l-0.6-2l-0.8-1l-1.4-0.8l-2-0.4l-7-0.4l-5-0.6l-5-1.3l-7.1-2.5l-1.9-0.3l-1 0.6l0-9.2zM-1 17.9l0-0.7l0.8 0.7l3.2 3.9l2 2.1l6.5 4.9l2.2 2l2.3 2.9l0.6 1l0.6 2l-0.1 1l-0.7 1l-2.1 1l-4.7 1l-10.6 1.1l0-23z"/>
<path fill="#00f0c8" d="M-1 -1l141.8 0l0 9.4l-1-0.5l-1-0.1l-1.7 0.1l-3.1 1l-2.2 1l-3.3 2l-2.2 2l-0.7 1l-0.4 1l0 1l0.5 1l1.1 0.7l1 0.3l2-0.1l3-0.8l8-3l0 32.3l-2-0.6l-2-1.1l-5-4.2l-3-2l-3-1.3l-2-0.3l-3 0.3l-2 0.8l-2 1.1l-7 5.6l-1.9 1l-2.1 0.7l-1.9 0.3l-2-0.2l-3-0.8l-5-1.5l-3-0.6l-3-0.2l-2 0.4l-2 0.8l-1 0.7l-1 1l-0.8 1.4l-4.7 11.9l-0.9 3l-76.5 0l0-6.8l8 1.3l3 0.2l3-0.1l4-0.8l10-2.7l4-0.5l3.9 0.2l3.1-0.7l2.9-1.1l1.4-0.9l0.6-0.8l1-2.1l1.1-5l0.4-5l-0.3-3l-0.5-2l-3.5-7.9l-1.3-4l-0.9-3.9l-1.3-8l-0.7-1.4l-1-1l-1-0.5l-1.9-0.1l-10 2.7l-3 0.5l-3 0.2l-3 0l-3-0.4l-10-1.9l-1 0l-1 0.4l0-8.4zM-1 26.8l0-0.8l1 1.1l4.6 3.7l1.4 1.9l0.3 1l0 1l-0.2 1l-0.6 1l-1.1 1l-2.4 1.2l-3 0.6l0-11.7z"/>
<path fill="#00f078" d="M-1 -1l35.9 0l-1.9 0.7l-8 4.2l-4 1.7l-5 1.2l-5 0.5l-9-0.4l-3 0.3l0-7.2zM38.4 -1l102.4 0l0 8.1l-2-0.4l-2 0l-13 1.7l-12 0.5l-2 0.5l-1 0.7l-0.7 0.8l-1.3 2l-0.9 2l-3.5 7.9l-4.1 7l-0.8 1.9l-0.1 1l0.2 1l0.7 1l1.3 1l3.3 1.5l3.9 1.1l1 0.6l0.7 0.8l0.3 1l0.1 1l-0.8 2l-0.8 0.9l-1.2 1l-1.2 0.5l-1 0.1l-2-0.6l-1.7-1l-1.3-0.9l-2-2l-3-4.3l-1-1l-1-0.7l-3-1.3l-7.7-2.7l-3.3-1.8l-2-1.9l-3.4-4.2l-1-1l-1.6-1.1l-1-0.2l-1 0.1l-5 1.3l-2 0.2l-2 0l-2-0.4l-2-0.6l-3-1.5l-2-1.6l-1-1.1l-1.8-3l-1.4-4l-1.5-6.9l-0.8-2l-0.8-1l-1.2-1l-2.5-0.9zM140.4 22.8l0.4-0.9l0 21.3l-1-0.9l-1.1-1.6l-1.2-3l-0.4-2l0.3-3l1.6-4.9l1.1-4zM63.6 44.6l2.3 0.3l3 0.9l4 0.3l1 0.2l1 0.5l0.9 0.8l0.7 1l0.6 2l0 3l-0.8 3l-2.6 6.9l-18.7 0l-0.4-3l0-2l1-3.9l0.3-3l0.5-2l1.1-2l1.4-1.3l2-1.2l2-0.4z"/>
<path fill="#96f000" d="M-1 -1l27.6 0l-6.6 3.6l-5 1.8l-3 0.7l-3 0.4l-10 0.6l0-6.1zM54.1 0l1.6-1l9.3 0l3.3 1l1.6 0.2l3.3-1.2l16.9 0l1.8 2.9l1.2 3.1l0.8 2.9l0.2 2l-0.2 2l-0.7 2l-1.1 2l-1.9 2l-1.5 0.9l-1.8 0.9l-2 0.5l-3 0.2l-2-0.2l-3-0.6l-7-2.1l-6 0.7l-2 0.1l-3-0.5l-2-0.7l-2-1.3l-1.9-1.9l-1.1-2l-0.6-2l-0.3-3l0.6-2.9l0.8-2l1.5-1.9zM110.2 -1l30.6 0l0 7.1l-3-0.4l-10-0.2l-6-0.8l-3-0.8l-3-1.2l-2-1.1l-3-2.1zM64.9 48.6l3-0.2l3 0.5l2 0.9l0.9 0.8l0.7 1l0.4 2l-0.1 2l-0.9 2.6l-2.3 5.3l-11.6 0l-0.8-2l-0.4-2l-0.1-2l0.5-2.9l0.6-2l1.1-1.7l1.5-1.3l1.5-0.7z"/>
<path fill="#fff000" class="k" d="M-1 -1l22 0l-5 2.6l-5 1.8l-5 1l-7 0.8l0-5.2zM116.9 -1l23.9 0l0 6.1l-9-1l-5-0.9l-5-1.6l-4-2zM61.3 2l2.6-0.4l6 0.1l7-0.5l2 0.1l2 0.5l2.4 1.2l1.6 1.4l1.1 1.5l0.6 2l0.1 2l-0.6 2l-1.5 2l-1.7 1.2l-2 0.8l-2 0.5l-2 0.1l-7-0.5l-5-0.1l-3-0.4l-1.6-0.6l-1.4-0.8l-1.4-1.2l-1.2-2l-0.5-2l0.1-2l0.9-1.9l0.8-1l1.3-1l2-0.9zM65.1 51.6l1.8-0.6l1-0.2l2 0.2l1 0.4l1 0.7l0.9 1.5l0.1 1l-0.4 2l-2.6 4.9l-1 1.3l-1 0.3l-1 0l-1.8-0.6l-1.2-1l-1.2-2l-0.3-1l-0.2-1.9l0.4-2l0.5-1l0.7-1l1.1-0.9z"/>
<path fill="#ffdc00" class="k2" d="M-1 -1l17.2 0l-3.8 2l-3.4 1.3l-5 1.2l-5 0.7l0-4.2zM122.4 -1l18.4 0l0 5.2l-6-0.9l-4-0.9l-4.3-1.4l-3.7-1.8zM63.5 4l3.4-0.7l6-0.2l2 0.2l2 0.5l2.3 1.2l1.1 0.9l0.7 1l0.4 1l0.1 1l-0.1 1l-0.4 1l-0.7 1l-1.1 1l-1.3 0.7l-2 0.6l-2 0.3l-5 0.1l-4-0.5l-2.8-1.2l-1.2-1l-0.7-1l-0.5-1l-0.1-1l0-1l0.4-1l0.6-1l1-0.9l1.3-0.8zM67.6 53.6l1.3-0.4l1.2 0.4l0.6 1l-0.3 1l-0.5 0.7l-1 0.7l-1 0.2l-1-0.4l-0.5-1.2l0.2-1l0.3-0.4z"/>
<path fill="#ffc800" class="k" d="M-1 -1l13.1 0l-3.1 1.6l-3.6 1.4l-3.4 0.8l-3 0.5l0-3.3zM127 -1l13.8 0l0 4.2l-3-0.3l-3.7-0.9l-2.9-1l-3.4-1.6zM66.6 5l3.3-0.5l3 0.3l2 0.7l0.8 0.4l1.1 1l0.5 1l0.2 1l-0.2 1l-0.6 1l-0.8 0.8l-2 1l-3 0.5l-3-0.1l-2-0.6l-1.3-0.6l-0.7-0.6l-1-1.4l-0.2-1l0.2-1l0.5-1l0.5-0.5l2-1.2z"/>
<path fill="#ffb400" class="k" d="M-1 -1l9.5 0l-4 2l-2.5 0.8l-2 0.4l-1 0.1l0-2.3zM130.8 -1l10 0l0 3.3l-2-0.2l-2-0.5l-1.9-0.6l-3.1-1.5zM66.6 6.9l1.3-0.6l1-0.2l2 0l1 0.3l1.2 0.5l0.9 1l0.3 1l-0.4 1.2l-1 0.9l-2 0.8l-2 0l-1-0.3l-1.3-0.6l-0.9-1l-0.2-1l0.4-1.2z"/>
<path fill="#ffa000" class="k" d="M-1 -1l6.3 0l-3.3 1.7l-2 0.6l-1 0l0-1.3zM134 -1l6.8 0l0 2.3l-2.8-0.3l-3.2-1.5zM68.7 7.9l1.2-0.2l1 0.4l0.5 0.8l-0.5 1l-1 0.3l-1-0.1l-0.3-0.2l-0.6-1z"/>
<path fill="#ff8c00" class="k" d="M-1 -1l3.5 0l-1.6 1l-0.9 0.3l-1 0l0-0.3zM136.8 -1l4 0l0 1.2l-1 0.1l-1.5-0.3l-1.5-1z"/>
</g>
<text x="73.1" y="14.2" class="cl" text-anchor="middle">20</text>
<text x="78.2" y="26.5" class="cl" text-anchor="middle">5</text>
<text x="121.3" y="13.1" class="cl" text-anchor="middle">5</text>
<text x="52.5" y="48.8" class="cl" text-anchor="middle">5</text>
<text x="102.5" y="48.8" class="cl" text-anchor="middle">0</text>
<rect class="red" x="49.8" y="3.2" width="64.0" height="46.9"/>
<path class="tk" d="M0.0 0v-1.2M0.0 62.5v1.2M17.8 0v-1.2M17.8 62.5v1.2M35.7 0v-1.2M35.7 62.5v1.2M53.5 0v-1.2M53.5 62.5v1.2M71.4 0v-1.2M71.4 62.5v1.2M89.2 0v-1.2M89.2 62.5v1.2M107.0 0v-1.2M107.0 62.5v1.2M124.9 0v-1.2M124.9 62.5v1.2"/>
<text class="ax" x="0.0" y="67.1" text-anchor="middle">0</text>
<text class="ax" x="17.8" y="67.1" text-anchor="middle">2</text>
<text class="ax" x="35.7" y="67.1" text-anchor="middle">4</text>
<text class="ax" x="53.5" y="67.1" text-anchor="middle">6</text>
<text class="ax" x="71.4" y="67.1" text-anchor="middle">8</text>
<text class="ax" x="89.2" y="67.1" text-anchor="middle">10</text>
<text class="ax" x="107.0" y="67.1" text-anchor="middle">12</text>
<text class="ax" x="123.4" y="67.1">14(cm)</text>
<text class="ax" x="-2.2" y="5.8" text-anchor="end">-2</text>
<text class="ax" x="-2.2" y="23.6" text-anchor="end">-4</text>
<text class="ax" x="-2.2" y="41.4" text-anchor="end">-6</text>
<text class="ax" x="-2.2" y="59.2" text-anchor="end">-8</text>
<text class="ax" x="-1.6" y="2.9" text-anchor="end" style="font-size:2.4px">(cm)</text>
</g>
<rect x="189.50" y="263.2" width="5.13" height="7.2" fill="#0000f0"/>
<rect x="194.58" y="263.2" width="5.13" height="7.2" fill="#0000f0"/>
<rect x="199.66" y="263.2" width="5.13" height="7.2" fill="#0000f0"/>
<rect x="204.74" y="263.2" width="5.13" height="7.2" fill="#1496ff"/>
<rect x="209.82" y="263.2" width="5.13" height="7.2" fill="#00d8ff"/>
<rect x="214.90" y="263.2" width="5.13" height="7.2" fill="#00f0f0"/>
<rect x="219.98" y="263.2" width="5.13" height="7.2" fill="#00f0c8"/>
<rect x="225.06" y="263.2" width="5.13" height="7.2" fill="#00f078"/>
<rect x="230.14" y="263.2" width="5.13" height="7.2" fill="#96f000"/>
<rect x="235.22" y="263.2" width="5.13" height="7.2" fill="#fff000"/>
<rect x="240.30" y="263.2" width="5.13" height="7.2" fill="#ffdc00"/>
<rect x="245.38" y="263.2" width="5.13" height="7.2" fill="#ffc800"/>
<rect x="250.46" y="263.2" width="5.13" height="7.2" fill="#ffb400"/>
<rect x="255.54" y="263.2" width="5.13" height="7.2" fill="#ffa000"/>
<rect x="260.62" y="263.2" width="5.13" height="7.2" fill="#ff8c00"/>
<rect x="265.70" y="263.2" width="5.13" height="7.2" fill="#ff7800"/>
<rect x="270.78" y="263.2" width="5.13" height="7.2" fill="#ff6400"/>
<rect x="275.86" y="263.2" width="5.13" height="7.2" fill="#ff5000"/>
<rect x="280.94" y="263.2" width="5.13" height="7.2" fill="#ff3c00"/>
<rect x="286.02" y="263.2" width="5.13" height="7.2" fill="#ff2800"/>
<rect x="291.10" y="263.2" width="5.13" height="7.2" fill="#ff1400"/>
<rect x="296.18" y="263.2" width="5.13" height="7.2" fill="#ff0800"/>
<rect x="301.26" y="263.2" width="5.13" height="7.2" fill="#ff0000"/>
<path d="M194.58 263.2v7.2M199.66 263.2v7.2M204.74 263.2v7.2M209.82 263.2v7.2M214.90 263.2v7.2M219.98 263.2v7.2M225.06 263.2v7.2M230.14 263.2v7.2M235.22 263.2v7.2M240.30 263.2v7.2M245.38 263.2v7.2M250.46 263.2v7.2M255.54 263.2v7.2M260.62 263.2v7.2M265.70 263.2v7.2M270.78 263.2v7.2M275.86 263.2v7.2M280.94 263.2v7.2M286.02 263.2v7.2M291.10 263.2v7.2M296.18 263.2v7.2M301.26 263.2v7.2" stroke="#000" stroke-opacity=".3" stroke-width=".3" fill="none"/>
<text x="182.3" y="269.1" font-size="6.3" text-anchor="middle" fill="#222">(mV)</text>
<text class="s" font-size="4.8" fill="#444" transform="translate(187.8 272.4) rotate(90)">-250</text>
<text class="s" font-size="4.8" fill="#444" transform="translate(198.0 272.4) rotate(90)">-20</text>
<text class="s" font-size="4.8" fill="#444" transform="translate(208.1 272.4) rotate(90)">-5</text>
<text class="s" font-size="4.8" fill="#444" transform="translate(218.3 272.4) rotate(90)">0</text>
<text class="s" font-size="4.8" fill="#444" transform="translate(228.4 272.4) rotate(90)">10</text>
<text class="s" font-size="4.8" fill="#444" transform="translate(238.6 272.4) rotate(90)">20</text>
<text class="s" font-size="4.8" fill="#444" transform="translate(248.8 272.4) rotate(90)">30</text>
<text class="s" font-size="4.8" fill="#444" transform="translate(258.9 272.4) rotate(90)">40</text>
<text class="s" font-size="4.8" fill="#444" transform="translate(269.1 272.4) rotate(90)">50</text>
<text class="s" font-size="4.8" fill="#444" transform="translate(279.2 272.4) rotate(90)">60</text>
<text class="s" font-size="4.8" fill="#444" transform="translate(289.4 272.4) rotate(90)">70</text>
<text class="s" font-size="4.8" fill="#444" transform="translate(299.6 272.4) rotate(90)">80</text>
<text x="334" y="33" class="b" font-size="7">Electrode lines</text>
<path d="M337.2 41.6H540.8M337.2 132.9H540.8M337.2 41.6V132.9M388.2 41.6V132.9M438.8 41.6V132.9M489.6 41.6V132.9M540.8 41.6V132.9" stroke="#535960" stroke-width="1.35" fill="none"/>
<rect x="334.6" y="40.4" width="4.9" height="2.4" rx=".6" fill="#f2730c"/>
<text class="el" x="333.7" y="43.9">1#</text>
<rect x="334.6" y="53.4" width="4.9" height="2.4" rx=".6" fill="#f2730c"/>
<text class="el" x="333.7" y="56.9">2#</text>
<rect x="334.6" y="66.5" width="4.9" height="2.4" rx=".6" fill="#f2730c"/>
<text class="el" x="333.7" y="70.0">3#</text>
<rect x="334.6" y="79.5" width="4.9" height="2.4" rx=".6" fill="#f2730c"/>
<text class="el" x="333.7" y="83.0">4#</text>
<rect x="334.6" y="92.6" width="4.9" height="2.4" rx=".6" fill="#f2730c"/>
<text class="el" x="333.7" y="96.1">5#</text>
<rect x="334.6" y="105.6" width="4.9" height="2.4" rx=".6" fill="#f2730c"/>
<text class="el" x="333.7" y="109.1">6#</text>
<rect x="334.6" y="118.6" width="4.9" height="2.4" rx=".6" fill="#f2730c"/>
<text class="el" x="333.7" y="122.1">7#</text>
<rect x="334.6" y="131.7" width="4.9" height="2.4" rx=".6" fill="#f2730c"/>
<text class="el" x="333.7" y="135.2">8#</text>
<text class="ln" x="331.4" y="141.9">line1</text>
<rect x="385.6" y="40.4" width="4.9" height="2.4" rx=".6" fill="#f2730c"/>
<text class="el" x="384.7" y="43.9">9#</text>
<rect x="385.6" y="53.4" width="4.9" height="2.4" rx=".6" fill="#f2730c"/>
<text class="el" x="384.7" y="56.9">10#</text>
<rect x="385.6" y="66.5" width="4.9" height="2.4" rx=".6" fill="#f2730c"/>
<text class="el" x="384.7" y="70.0">11#</text>
<rect x="385.6" y="79.5" width="4.9" height="2.4" rx=".6" fill="#f2730c"/>
<text class="el" x="384.7" y="83.0">12#</text>
<rect x="385.6" y="92.6" width="4.9" height="2.4" rx=".6" fill="#f2730c"/>
<text class="el" x="384.7" y="96.1">13#</text>
<rect x="385.6" y="105.6" width="4.9" height="2.4" rx=".6" fill="#f2730c"/>
<text class="el" x="384.7" y="109.1">14#</text>
<rect x="385.6" y="118.6" width="4.9" height="2.4" rx=".6" fill="#f2730c"/>
<text class="el" x="384.7" y="122.1">15#</text>
<rect x="385.6" y="131.7" width="4.9" height="2.4" rx=".6" fill="#f2730c"/>
<text class="el" x="384.7" y="135.2">16#</text>
<text class="ln" x="382.4" y="141.9">line2</text>
<rect x="436.2" y="40.4" width="4.9" height="2.4" rx=".6" fill="#f2730c"/>
<text class="el" x="435.3" y="43.9">17#</text>
<rect x="436.2" y="53.4" width="4.9" height="2.4" rx=".6" fill="#f2730c"/>
<text class="el" x="435.3" y="56.9">18#</text>
<rect x="436.2" y="66.5" width="4.9" height="2.4" rx=".6" fill="#f2730c"/>
<text class="el" x="435.3" y="70.0">19#</text>
<rect x="436.2" y="79.5" width="4.9" height="2.4" rx=".6" fill="#f2730c"/>
<text class="el" x="435.3" y="83.0">20#</text>
<rect x="436.2" y="92.6" width="4.9" height="2.4" rx=".6" fill="#f2730c"/>
<text class="el" x="435.3" y="96.1">21#</text>
<rect x="436.2" y="105.6" width="4.9" height="2.4" rx=".6" fill="#f2730c"/>
<text class="el" x="435.3" y="109.1">22#</text>
<rect x="436.2" y="118.6" width="4.9" height="2.4" rx=".6" fill="#f2730c"/>
<text class="el" x="435.3" y="122.1">23#</text>
<rect x="436.2" y="131.7" width="4.9" height="2.4" rx=".6" fill="#f2730c"/>
<text class="el" x="435.3" y="135.2">24#</text>
<text class="ln" x="433.0" y="141.9">line3</text>
<rect x="487.0" y="40.4" width="4.9" height="2.4" rx=".6" fill="#f2730c"/>
<text class="el" x="486.1" y="43.9">25#</text>
<rect x="487.0" y="53.4" width="4.9" height="2.4" rx=".6" fill="#f2730c"/>
<text class="el" x="486.1" y="56.9">26#</text>
<rect x="487.0" y="66.5" width="4.9" height="2.4" rx=".6" fill="#f2730c"/>
<text class="el" x="486.1" y="70.0">27#</text>
<rect x="487.0" y="79.5" width="4.9" height="2.4" rx=".6" fill="#f2730c"/>
<text class="el" x="486.1" y="83.0">28#</text>
<rect x="487.0" y="92.6" width="4.9" height="2.4" rx=".6" fill="#f2730c"/>
<text class="el" x="486.1" y="96.1">29#</text>
<rect x="487.0" y="105.6" width="4.9" height="2.4" rx=".6" fill="#f2730c"/>
<text class="el" x="486.1" y="109.1">30#</text>
<rect x="487.0" y="118.6" width="4.9" height="2.4" rx=".6" fill="#f2730c"/>
<text class="el" x="486.1" y="122.1">31#</text>
<rect x="487.0" y="131.7" width="4.9" height="2.4" rx=".6" fill="#f2730c"/>
<text class="el" x="486.1" y="135.2">32#</text>
<text class="ln" x="483.8" y="141.9">line4</text>
<rect x="538.2" y="40.4" width="4.9" height="2.4" rx=".6" fill="#f2730c"/>
<text class="el" x="537.3" y="43.9">1#</text>
<rect x="538.2" y="53.4" width="4.9" height="2.4" rx=".6" fill="#f2730c"/>
<text class="el" x="537.3" y="56.9">2#</text>
<rect x="538.2" y="66.5" width="4.9" height="2.4" rx=".6" fill="#f2730c"/>
<text class="el" x="537.3" y="70.0">3#</text>
<rect x="538.2" y="79.5" width="4.9" height="2.4" rx=".6" fill="#f2730c"/>
<text class="el" x="537.3" y="83.0">4#</text>
<rect x="538.2" y="92.6" width="4.9" height="2.4" rx=".6" fill="#f2730c"/>
<text class="el" x="537.3" y="96.1">5#</text>
<rect x="538.2" y="105.6" width="4.9" height="2.4" rx=".6" fill="#f2730c"/>
<text class="el" x="537.3" y="109.1">6#</text>
<rect x="538.2" y="118.6" width="4.9" height="2.4" rx=".6" fill="#f2730c"/>
<text class="el" x="537.3" y="122.1">7#</text>
<rect x="538.2" y="131.7" width="4.9" height="2.4" rx=".6" fill="#f2730c"/>
<text class="el" x="537.3" y="135.2">8#</text>
<text class="ln" x="535.0" y="141.9">line1</text>
<path d="M349.40 147.2V254.6M354.30 147.2V254.6M359.20 147.2V254.6M364.10 147.2V254.6M369.00 147.2V254.6M373.90 147.2V254.6M378.80 147.2V254.6M383.70 147.2V254.6M388.60 147.2V254.6M393.50 147.2V254.6M398.40 147.2V254.6M403.30 147.2V254.6M408.20 147.2V254.6M413.10 147.2V254.6M418.00 147.2V254.6M422.90 147.2V254.6M427.80 147.2V254.6M432.70 147.2V254.6M437.60 147.2V254.6M442.50 147.2V254.6M447.40 147.2V254.6M452.30 147.2V254.6M457.20 147.2V254.6M462.10 147.2V254.6M467.00 147.2V254.6M471.90 147.2V254.6M476.80 147.2V254.6M481.70 147.2V254.6M486.60 147.2V254.6M491.50 147.2V254.6M496.40 147.2V254.6M501.30 147.2V254.6M506.20 147.2V254.6M511.10 147.2V254.6M516.00 147.2V254.6M520.90 147.2V254.6M525.80 147.2V254.6M530.70 147.2V254.6M535.60 147.2V254.6" stroke="#e6e6e6" stroke-width=".5" fill="none"/>
<path d="M540.5 147.2V254.6" fill="none" stroke="#6a6a6a" stroke-width=".7"/><path d="M342.5 147.2H540.8" fill="none" stroke="#555" stroke-width=".95"/>
<path d="M344.5 147.2V254.6H540.5" stroke="#4c4c4c" stroke-width="1.1" fill="none"/>
<path d="M344.50 254.6v3.2M349.40 254.6v2.2M354.30 254.6v2.2M359.20 254.6v2.2M364.10 254.6v2.2M369.00 254.6v3.2M373.90 254.6v2.2M378.80 254.6v2.2M383.70 254.6v2.2M388.60 254.6v2.2M393.50 254.6v3.2M398.40 254.6v2.2M403.30 254.6v2.2M408.20 254.6v2.2M413.10 254.6v2.2M418.00 254.6v3.2M422.90 254.6v2.2M427.80 254.6v2.2M432.70 254.6v2.2M437.60 254.6v2.2M442.50 254.6v3.2M447.40 254.6v2.2M452.30 254.6v2.2M457.20 254.6v2.2M462.10 254.6v2.2M467.00 254.6v3.2M471.90 254.6v2.2M476.80 254.6v2.2M481.70 254.6v2.2M486.60 254.6v2.2M491.50 254.6v3.2M496.40 254.6v2.2M501.30 254.6v2.2M506.20 254.6v2.2M511.10 254.6v2.2M516.00 254.6v3.2M520.90 254.6v2.2M525.80 254.6v2.2M530.70 254.6v2.2M535.60 254.6v2.2M540.50 254.6v3.2M342.5 254.6h2.4M342.5 236.7h2.4M342.5 218.8h2.4M342.5 200.9h2.4M342.5 183.0h2.4M342.5 165.1h2.4M342.5 147.2h2.4" stroke="#444" stroke-width=".8" fill="none"/>
<text class="ct" x="336.8" y="257.1" text-anchor="end">-5</text>
<text class="ct" x="336.8" y="239.2" text-anchor="end">0</text>
<text class="ct" x="336.8" y="221.3" text-anchor="end">5</text>
<text class="ct" x="336.8" y="203.4" text-anchor="end">10</text>
<text class="ct" x="336.8" y="185.5" text-anchor="end">15</text>
<text class="ct" x="336.8" y="167.6" text-anchor="end">20</text>
<text class="ct" x="336.8" y="149.7" text-anchor="end">25</text>
<text class="ct" x="344.5" y="267.7" text-anchor="middle">0</text>
<text class="ct" x="369.0" y="267.7" text-anchor="middle">50</text>
<text class="ct" x="393.5" y="267.7" text-anchor="middle">100</text>
<text class="ct" x="418.0" y="267.7" text-anchor="middle">150</text>
<text class="ct" x="442.5" y="267.7" text-anchor="middle">200</text>
<text class="ct" x="467.0" y="267.7" text-anchor="middle">250</text>
<text class="ct" x="491.5" y="267.7" text-anchor="middle">300</text>
<text class="ct" x="516.0" y="267.7" text-anchor="middle">350</text>
<text class="ct" x="540.5" y="267.7" text-anchor="middle">400</text>
<text class="b" font-size="9.1" x="443.6" y="280.5" text-anchor="middle">Time(s)</text>
<text class="b" font-size="8.8" transform="translate(326.4 201.4) rotate(-90)" text-anchor="middle">Stress (MPa)</text>
<path d="M344.5 236.7 L359.2 231.0 L374.9 224.2 L393.5 214.9 L415.6 202.0 L435.1 190.5 L452.3 179.8 L467.0 170.8 L473.4 167.6 L477.3 166.0 L477.8 185.5 L479.7 184.4 L484.1 183.0 L490.5 181.9 L492.0 182.3 L492.7 190.5 L499.3 190.5 L499.8 218.8 L500.6 245.3 L505.7 244.6" stroke="#111" stroke-width="1.1" fill="none" stroke-linejoin="round"/>
<text x="415.5" y="187.2" font-size="7.7" text-anchor="middle">Stress</text>
<path d="M416.3 185.5Q417.5 189.5 422 194" stroke="#111" stroke-width=".85" fill="none"/><path d="M423.3 195.3l-3.4-1.3 2.2-2.1z" fill="#111"/>
</svg></body></html>
